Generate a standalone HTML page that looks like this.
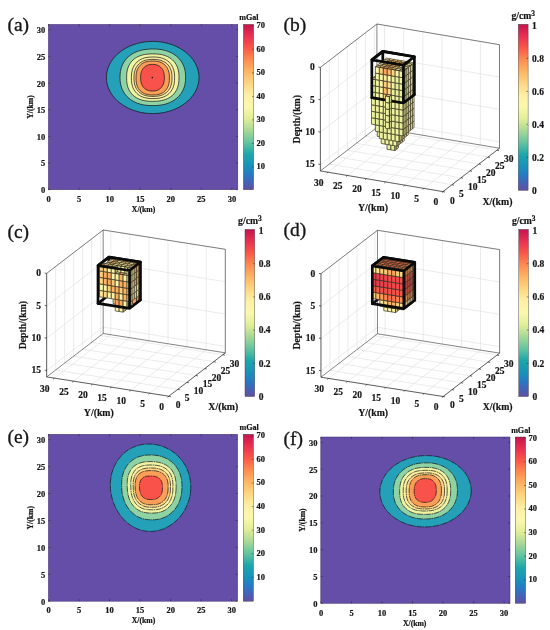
<!DOCTYPE html>
<html lang="en"><head><meta charset="utf-8"><title>Figure</title>
<style>
html,body{margin:0;padding:0;background:#fff;}
body{width:550px;height:630px;overflow:hidden;}
svg{display:block;font-family:'Liberation Serif', 'DejaVu Serif', serif;fill:#111;}
svg text{fill:#151515;stroke:#151515;stroke-width:.2px;}
svg text.pl{stroke-width:.32px;}
</style></head><body>
<svg width="550" height="630" viewBox="0 0 550 630">
<rect width="550" height="630" fill="#fff"/>
<defs><linearGradient id="cb" x1="0" y1="1" x2="0" y2="0">
<stop offset="0.0" stop-color="#5e4fa2"/>
<stop offset="0.04" stop-color="#4860b4"/>
<stop offset="0.09" stop-color="#2878c4"/>
<stop offset="0.143" stop-color="#1892ba"/>
<stop offset="0.214" stop-color="#1ca6aa"/>
<stop offset="0.286" stop-color="#64c4a0"/>
<stop offset="0.357" stop-color="#a6d896"/>
<stop offset="0.43" stop-color="#e2ee96"/>
<stop offset="0.5" stop-color="#faf8ac"/>
<stop offset="0.571" stop-color="#fef0a5"/>
<stop offset="0.643" stop-color="#fed682"/>
<stop offset="0.714" stop-color="#fdb664"/>
<stop offset="0.786" stop-color="#fd8c50"/>
<stop offset="0.857" stop-color="#fa5848"/>
<stop offset="0.93" stop-color="#e83052"/>
<stop offset="1.0" stop-color="#c4144e"/>
</linearGradient></defs>
<rect x="48.4" y="24.4" width="189.4" height="165.3" fill="#654ea8"/>
<path d="M199,77.5L198.82,80.65L198.3,83.77L197.42,86.84L196.21,89.85L194.66,92.76L192.8,95.55L190.63,98.21L188.17,100.7L185.44,103.03L182.46,105.15L179.26,107.07L175.85,108.76L172.27,110.22L168.54,111.42L164.68,112.37L160.74,113.05L156.74,113.46L152.7,113.6L148.66,113.46L144.66,113.05L140.72,112.37L136.86,111.42L133.13,110.22L129.55,108.76L126.14,107.07L122.94,105.15L119.96,103.03L117.23,100.7L114.77,98.21L112.6,95.55L110.74,92.76L109.19,89.85L107.98,86.84L107.1,83.77L106.58,80.65L106.4,77.5L106.58,74.35L107.1,71.23L107.98,68.16L109.19,65.15L110.74,62.24L112.6,59.45L114.77,56.79L117.23,54.3L119.96,51.97L122.94,49.85L126.14,47.93L129.55,46.24L133.13,44.78L136.86,43.58L140.72,42.63L144.66,41.95L148.66,41.54L152.7,41.4L156.74,41.54L160.74,41.95L164.68,42.63L168.54,43.58L172.27,44.78L175.85,46.24L179.26,47.93L182.46,49.85L185.44,51.97L188.17,54.3L190.63,56.79L192.8,59.45L194.66,62.24L196.21,65.15L197.42,68.16L198.3,71.23L198.82,74.35Z" fill="#24a0b8" stroke="#111" stroke-width="0.7"/>
<path d="M185.6,77.3L185.49,80.53L185.16,83.27L184.6,85.81L183.84,88.2L182.85,90.46L181.66,92.58L180.27,94.57L178.68,96.41L176.9,98.1L174.94,99.63L172.81,101L170.51,102.2L168.05,103.23L165.44,104.08L162.66,104.74L159.72,105.22L156.55,105.5L152.8,105.6L149.05,105.5L145.88,105.22L142.94,104.74L140.16,104.08L137.55,103.23L135.09,102.2L132.79,101L130.66,99.63L128.7,98.1L126.92,96.41L125.33,94.57L123.94,92.58L122.75,90.46L121.76,88.2L121,85.81L120.44,83.27L120.11,80.53L120,77.3L120.11,74.07L120.44,71.33L121,68.79L121.76,66.4L122.75,64.14L123.94,62.02L125.33,60.03L126.92,58.19L128.7,56.5L130.66,54.97L132.79,53.6L135.09,52.4L137.55,51.37L140.16,50.52L142.94,49.86L145.88,49.38L149.05,49.1L152.8,49L156.55,49.1L159.72,49.38L162.66,49.86L165.44,50.52L168.05,51.37L170.51,52.4L172.81,53.6L174.94,54.97L176.9,56.5L178.68,58.19L180.27,60.03L181.66,62.02L182.85,64.14L183.84,66.4L184.6,68.79L185.16,71.33L185.49,74.07Z" fill="#8fd3a4" stroke="#111" stroke-width="0.7"/>
<path d="M179,77.6L178.92,80.7L178.67,83.11L178.25,85.28L177.68,87.29L176.94,89.16L176.04,90.9L174.99,92.51L173.78,94L172.43,95.35L170.93,96.58L169.29,97.67L167.5,98.62L165.58,99.43L163.52,100.1L161.29,100.63L158.89,101L156.23,101.22L152.8,101.3L149.37,101.22L146.71,101L144.31,100.63L142.08,100.1L140.02,99.43L138.1,98.62L136.31,97.67L134.67,96.58L133.17,95.35L131.82,94L130.61,92.51L129.56,90.9L128.66,89.16L127.92,87.29L127.35,85.28L126.93,83.11L126.68,80.7L126.6,77.6L126.68,74.5L126.93,72.09L127.35,69.92L127.92,67.91L128.66,66.04L129.56,64.3L130.61,62.69L131.82,61.2L133.17,59.85L134.67,58.62L136.31,57.53L138.1,56.58L140.02,55.77L142.08,55.1L144.31,54.57L146.71,54.2L149.37,53.98L152.8,53.9L156.23,53.98L158.89,54.2L161.29,54.57L163.52,55.1L165.58,55.77L167.5,56.58L169.29,57.53L170.93,58.62L172.43,59.85L173.78,61.2L174.99,62.69L176.04,64.3L176.94,66.04L177.68,67.91L178.25,69.92L178.67,72.09L178.92,74.5Z" fill="#eff4a4" stroke="#111" stroke-width="0.7"/>
<path d="M174.6,77.8L174.53,80.52L174.33,82.64L173.98,84.54L173.51,86.31L172.9,87.95L172.16,89.47L171.29,90.89L170.3,92.19L169.18,93.38L167.95,94.46L166.59,95.41L165.12,96.25L163.54,96.96L161.83,97.55L160,98.01L158.02,98.34L155.83,98.53L153,98.6L150.17,98.53L147.98,98.34L146,98.01L144.17,97.55L142.46,96.96L140.88,96.25L139.41,95.41L138.05,94.46L136.82,93.38L135.7,92.19L134.71,90.89L133.84,89.47L133.1,87.95L132.49,86.31L132.02,84.54L131.67,82.64L131.47,80.52L131.4,77.8L131.47,75.08L131.67,72.96L132.02,71.06L132.49,69.29L133.1,67.65L133.84,66.13L134.71,64.71L135.7,63.41L136.82,62.22L138.05,61.14L139.41,60.19L140.88,59.35L142.46,58.64L144.17,58.05L146,57.59L147.98,57.26L150.17,57.07L153,57L155.83,57.07L158.02,57.26L160,57.59L161.83,58.05L163.54,58.64L165.12,59.35L166.59,60.19L167.95,61.14L169.18,62.22L170.3,63.41L171.29,64.71L172.16,66.13L172.9,67.65L173.51,69.29L173.98,71.06L174.33,72.96L174.53,75.08Z" fill="#fdf0a2" stroke="#111" stroke-width="0.7"/>
<path d="M172,77.9L171.94,80.32L171.76,82.2L171.46,83.9L171.04,85.47L170.5,86.93L169.85,88.28L169.09,89.54L168.22,90.7L167.23,91.76L166.15,92.72L164.96,93.57L163.66,94.31L162.27,94.94L160.77,95.47L159.16,95.87L157.42,96.17L155.49,96.34L153,96.4L150.51,96.34L148.58,96.17L146.84,95.87L145.23,95.47L143.73,94.94L142.34,94.31L141.04,93.57L139.85,92.72L138.77,91.76L137.78,90.7L136.91,89.54L136.15,88.28L135.5,86.93L134.96,85.47L134.54,83.9L134.24,82.2L134.06,80.32L134,77.9L134.06,75.48L134.24,73.6L134.54,71.9L134.96,70.33L135.5,68.87L136.15,67.52L136.91,66.26L137.78,65.1L138.77,64.04L139.85,63.08L141.04,62.23L142.34,61.49L143.73,60.86L145.23,60.33L146.84,59.93L148.58,59.63L150.51,59.46L153,59.4L155.49,59.46L157.42,59.63L159.16,59.93L160.77,60.33L162.27,60.86L163.66,61.49L164.96,62.23L166.15,63.08L167.23,64.04L168.22,65.1L169.09,66.26L169.85,67.52L170.5,68.87L171.04,70.33L171.46,71.9L171.76,73.6L171.94,75.48Z" fill="#fdd685" stroke="#111" stroke-width="0.7"/>
<path d="M169.4,78L169.35,80.23L169.19,81.95L168.92,83.51L168.56,84.95L168.09,86.29L167.51,87.54L166.84,88.7L166.07,89.76L165.21,90.74L164.26,91.61L163.21,92.4L162.07,93.08L160.85,93.66L159.53,94.14L158.11,94.52L156.58,94.78L154.89,94.95L152.7,95L150.51,94.95L148.82,94.78L147.29,94.52L145.87,94.14L144.55,93.66L143.33,93.08L142.19,92.4L141.14,91.61L140.19,90.74L139.33,89.76L138.56,88.7L137.89,87.54L137.31,86.29L136.84,84.95L136.48,83.51L136.21,81.95L136.05,80.23L136,78L136.05,75.77L136.21,74.05L136.48,72.49L136.84,71.05L137.31,69.71L137.89,68.46L138.56,67.3L139.33,66.24L140.19,65.26L141.14,64.39L142.19,63.6L143.33,62.92L144.55,62.34L145.87,61.86L147.29,61.48L148.82,61.22L150.51,61.05L152.7,61L154.89,61.05L156.58,61.22L158.11,61.48L159.53,61.86L160.85,62.34L162.07,62.92L163.21,63.6L164.26,64.39L165.21,65.26L166.07,66.24L166.84,67.3L167.51,68.46L168.09,69.71L168.56,71.05L168.92,72.49L169.19,74.05L169.35,75.77Z" fill="#fb9e57" stroke="#111" stroke-width="0.7"/>
<path d="M164.4,77.7L164.36,79.29L164.24,80.6L164.05,81.81L163.77,82.93L163.42,83.99L163,84.98L162.5,85.9L161.94,86.76L161.3,87.54L160.6,88.25L159.84,88.88L159.01,89.44L158.13,89.91L157.18,90.3L156.17,90.61L155.1,90.82L153.93,90.96L152.5,91L151.07,90.96L149.9,90.82L148.83,90.61L147.82,90.3L146.87,89.91L145.99,89.44L145.16,88.88L144.4,88.25L143.7,87.54L143.06,86.76L142.5,85.9L142,84.98L141.58,83.99L141.23,82.93L140.95,81.81L140.76,80.6L140.64,79.29L140.6,77.7L140.64,76.11L140.76,74.8L140.95,73.59L141.23,72.47L141.58,71.41L142,70.42L142.5,69.5L143.06,68.64L143.7,67.86L144.4,67.15L145.16,66.52L145.99,65.96L146.87,65.49L147.82,65.1L148.83,64.79L149.9,64.58L151.07,64.44L152.5,64.4L153.93,64.44L155.1,64.58L156.17,64.79L157.18,65.1L158.13,65.49L159.01,65.96L159.84,66.52L160.6,67.15L161.3,67.86L161.94,68.64L162.5,69.5L163,70.42L163.42,71.41L163.77,72.47L164.05,73.59L164.24,74.8L164.36,76.11Z" fill="#f9524b" stroke="#111" stroke-width="0.7"/>
<circle cx="152.3" cy="77.6" r="0.8" fill="#111"/>
<rect x="48.4" y="24.4" width="189.4" height="165.3" fill="none" stroke="#3b2f66" stroke-width="0.5"/>
<text x="48.6" y="201.8" font-size="8.5" text-anchor="middle" font-weight="bold">0</text>
<text x="45.2" y="193.1" font-size="8.5" text-anchor="end" font-weight="bold">0</text>
<text x="79.1" y="201.8" font-size="8.5" text-anchor="middle" font-weight="bold">5</text>
<text x="45.2" y="166.4" font-size="8.5" text-anchor="end" font-weight="bold">5</text>
<text x="109.7" y="201.8" font-size="8.5" text-anchor="middle" font-weight="bold">10</text>
<text x="45.2" y="139.8" font-size="8.5" text-anchor="end" font-weight="bold">10</text>
<text x="140.2" y="201.8" font-size="8.5" text-anchor="middle" font-weight="bold">15</text>
<text x="45.2" y="113.1" font-size="8.5" text-anchor="end" font-weight="bold">15</text>
<text x="170.8" y="201.8" font-size="8.5" text-anchor="middle" font-weight="bold">20</text>
<text x="45.2" y="86.5" font-size="8.5" text-anchor="end" font-weight="bold">20</text>
<text x="201.3" y="201.8" font-size="8.5" text-anchor="middle" font-weight="bold">25</text>
<text x="45.2" y="59.8" font-size="8.5" text-anchor="end" font-weight="bold">25</text>
<text x="231.9" y="201.8" font-size="8.5" text-anchor="middle" font-weight="bold">30</text>
<text x="45.2" y="33.1" font-size="8.5" text-anchor="end" font-weight="bold">30</text>
<path d="M48.6,189.7v-2M48.6,24.4v2M48.4,189.7h2M237.8,189.7h-2M79.1,189.7v-2M79.1,24.4v2M48.4,163h2M237.8,163h-2M109.7,189.7v-2M109.7,24.4v2M48.4,136.4h2M237.8,136.4h-2M140.2,189.7v-2M140.2,24.4v2M48.4,109.7h2M237.8,109.7h-2M170.8,189.7v-2M170.8,24.4v2M48.4,83.1h2M237.8,83.1h-2M201.3,189.7v-2M201.3,24.4v2M48.4,56.4h2M237.8,56.4h-2M231.9,189.7v-2M231.9,24.4v2M48.4,29.7h2M237.8,29.7h-2" stroke="#222" stroke-width="0.5" fill="none"/>
<text x="143.6" y="212.4" font-size="7.7" text-anchor="middle" font-weight="bold">X/(km)</text>
<text transform="translate(33,107) rotate(-90)" font-size="7.7" text-anchor="middle" font-weight="bold">Y/(km)</text>
<rect x="243.4" y="24.4" width="10.2" height="165.3" fill="url(#cb)" stroke="#333" stroke-width="0.4"/>
<text x="256.6" y="28" font-size="8.5" text-anchor="start" font-weight="bold">70</text>
<text x="256.6" y="51.5" font-size="8.5" text-anchor="start" font-weight="bold">60</text>
<text x="256.6" y="75.1" font-size="8.5" text-anchor="start" font-weight="bold">50</text>
<text x="256.6" y="98.7" font-size="8.5" text-anchor="start" font-weight="bold">40</text>
<text x="256.6" y="122.2" font-size="8.5" text-anchor="start" font-weight="bold">30</text>
<text x="256.6" y="145.8" font-size="8.5" text-anchor="start" font-weight="bold">20</text>
<text x="256.6" y="169.3" font-size="8.5" text-anchor="start" font-weight="bold">10</text>
<path d="M253.6,25.7h-1.6M253.6,49.2h-1.6M253.6,72.8h-1.6M253.6,96.4h-1.6M253.6,119.9h-1.6M253.6,143.4h-1.6M253.6,167h-1.6" stroke="#222" stroke-width="0.5" fill="none"/>
<text x="248.9" y="20.2" font-size="8.1" text-anchor="middle" font-weight="bold">mGal</text>
<text x="7.4" y="31.3" font-size="19.5" text-anchor="start" font-weight="normal" class="pl">(a)</text>
<rect x="48.4" y="434.3" width="189.2" height="166.9" fill="#654ea8"/>
<path d="M190.81,488.5L190.5,492.54L189.84,496.51L188.85,500.38L187.55,504.1L185.97,507.66L184.12,511.02L182.04,514.17L179.75,517.09L177.26,519.77L174.6,522.2L171.8,524.37L168.86,526.27L165.81,527.89L162.66,529.22L159.43,530.25L156.15,530.97L152.83,531.37L149.5,531.45L146.18,531.2L142.91,530.63L139.69,529.75L136.56,528.55L133.54,527.06L130.64,525.3L127.89,523.26L125.3,520.99L122.88,518.49L120.64,515.78L118.59,512.89L116.73,509.81L115.09,506.58L113.66,503.19L112.47,499.68L111.52,496.04L110.83,492.31L110.42,488.5L110.31,484.64L110.5,480.75L111.02,476.88L111.86,473.07L113.04,469.34L114.54,465.76L116.36,462.35L118.47,459.17L120.86,456.24L123.5,453.59L126.35,451.25L129.38,449.23L132.55,447.55L135.83,446.2L139.2,445.18L142.61,444.48L146.05,444.09L149.5,444.01L152.94,444.22L156.35,444.72L159.73,445.5L163.05,446.56L166.3,447.91L169.47,449.54L172.52,451.45L175.45,453.66L178.21,456.16L180.77,458.94L183.11,461.99L185.18,465.29L186.97,468.82L188.44,472.53L189.57,476.4L190.35,480.39L190.76,484.43Z" fill="#24a0b8" stroke="#111" stroke-width="0.7" stroke-dasharray="6 0.6 1.2 0.6"/>
<path d="M181.96,488L181.73,491.74L181.27,494.97L180.58,497.96L179.68,500.76L178.57,503.36L177.29,505.79L175.83,508.02L174.22,510.07L172.47,511.93L170.58,513.61L168.57,515.09L166.45,516.38L164.21,517.48L161.87,518.37L159.41,519.06L156.84,519.54L154.11,519.8L151,519.85L147.9,519.68L145.21,519.29L142.69,518.68L140.31,517.87L138.06,516.86L135.95,515.65L133.97,514.25L132.12,512.68L130.41,510.95L128.84,509.06L127.41,507.02L126.12,504.83L124.98,502.5L123.99,500.01L123.16,497.37L122.5,494.56L122.01,491.53L121.72,488L121.62,484.42L121.73,481.26L122.07,478.26L122.63,475.38L123.43,472.64L124.46,470.04L125.71,467.61L127.18,465.36L128.85,463.31L130.72,461.48L132.75,459.87L134.94,458.5L137.26,457.36L139.71,456.45L142.27,455.77L144.95,455.31L147.77,455.06L151,455.01L154.22,455.15L157.02,455.49L159.67,456.01L162.19,456.72L164.62,457.63L166.94,458.72L169.15,460.03L171.24,461.53L173.2,463.25L175.01,465.18L176.64,467.32L178.09,469.67L179.33,472.21L180.35,474.95L181.12,477.86L181.65,480.94L181.93,484.24Z" fill="#8fd3a4" stroke="#111" stroke-width="0.7" stroke-dasharray="6 0.6 1.2 0.6"/>
<path d="M176.1,487.8L175.93,491.37L175.57,494.12L175.05,496.56L174.36,498.79L173.52,500.82L172.55,502.68L171.44,504.38L170.21,505.92L168.87,507.31L167.42,508.55L165.86,509.64L164.2,510.58L162.44,511.38L160.56,512.03L158.56,512.52L156.41,512.87L154.04,513.06L151,513.09L147.97,512.96L145.64,512.67L143.53,512.23L141.6,511.63L139.8,510.88L138.14,509.99L136.6,508.96L135.17,507.8L133.86,506.51L132.67,505.09L131.58,503.55L130.61,501.88L129.75,500.09L129,498.15L128.37,496.04L127.86,493.75L127.49,491.17L127.26,487.8L127.17,484.38L127.24,481.69L127.48,479.23L127.89,476.93L128.48,474.78L129.24,472.77L130.18,470.91L131.29,469.21L132.57,467.68L133.99,466.31L135.57,465.13L137.28,464.12L139.11,463.29L141.07,462.63L143.16,462.15L145.4,461.82L147.85,461.64L151,461.61L154.14,461.71L156.57,461.96L158.78,462.34L160.84,462.85L162.79,463.5L164.62,464.3L166.35,465.25L167.97,466.36L169.48,467.63L170.86,469.07L172.11,470.68L173.21,472.46L174.14,474.42L174.91,476.56L175.49,478.88L175.88,481.4L176.09,484.2Z" fill="#eff4a4" stroke="#111" stroke-width="0.7" stroke-dasharray="6 0.6 1.2 0.6"/>
<path d="M172.95,487.8L172.8,491.17L172.5,493.63L172.07,495.78L171.49,497.71L170.79,499.46L169.97,501.05L169.05,502.5L168.02,503.8L166.89,504.97L165.67,506.01L164.36,506.93L162.95,507.72L161.45,508.38L159.84,508.93L158.12,509.34L156.24,509.63L154.14,509.78L151.3,509.8L148.47,509.7L146.4,509.45L144.56,509.08L142.9,508.58L141.36,507.95L139.95,507.2L138.65,506.34L137.45,505.36L136.35,504.27L135.35,503.07L134.44,501.76L133.63,500.34L132.91,498.8L132.28,497.13L131.76,495.31L131.34,493.29L131.02,490.98L130.82,487.8L130.75,484.58L130.8,482.17L130.99,480L131.33,478L131.81,476.14L132.44,474.42L133.22,472.83L134.15,471.38L135.22,470.08L136.41,468.93L137.74,467.94L139.19,467.09L140.75,466.4L142.42,465.86L144.22,465.45L146.18,465.18L148.36,465.03L151.3,465.01L154.24,465.1L156.4,465.3L158.32,465.61L160.1,466.04L161.76,466.59L163.32,467.25L164.79,468.05L166.15,468.97L167.42,470.04L168.58,471.26L169.63,472.62L170.55,474.14L171.33,475.82L171.96,477.66L172.45,479.68L172.77,481.9L172.94,484.41Z" fill="#fdf0a2" stroke="#111" stroke-width="0.7" stroke-dasharray="6 0.6 1.2 0.6"/>
<path d="M170.44,488L170.31,490.96L170.05,493.11L169.66,495L169.15,496.69L168.53,498.23L167.81,499.63L166.99,500.89L166.08,502.04L165.08,503.06L164.01,503.98L162.84,504.78L161.6,505.47L160.27,506.06L158.85,506.53L157.33,506.89L155.67,507.15L153.81,507.28L151.3,507.3L148.8,507.21L146.96,506.99L145.34,506.67L143.87,506.23L142.51,505.68L141.26,505.02L140.11,504.26L139.05,503.4L138.08,502.45L137.2,501.4L136.4,500.25L135.68,499L135.04,497.65L134.49,496.18L134.02,494.58L133.65,492.81L133.37,490.79L133.2,488L133.13,485.17L133.18,483.06L133.35,481.16L133.64,479.4L134.07,477.77L134.63,476.26L135.32,474.87L136.14,473.6L137.08,472.46L138.14,471.45L139.31,470.58L140.59,469.84L141.97,469.23L143.45,468.75L145.04,468.39L146.77,468.15L148.7,468.03L151.3,468L153.9,468.08L155.81,468.26L157.51,468.54L159.08,468.92L160.55,469.39L161.93,469.98L163.22,470.67L164.43,471.49L165.55,472.42L166.58,473.49L167.5,474.68L168.31,476.02L169,477.49L169.57,479.11L169.99,480.88L170.28,482.82L170.43,485.02Z" fill="#fdd685" stroke="#111" stroke-width="0.7" stroke-dasharray="6 0.6 1.2 0.6"/>
<path d="M168.14,488L168.03,490.57L167.79,492.45L167.45,494.09L167,495.56L166.45,496.9L165.81,498.11L165.09,499.22L164.28,500.21L163.4,501.11L162.45,501.9L161.42,502.6L160.32,503.2L159.14,503.71L157.89,504.12L156.54,504.44L155.07,504.66L153.42,504.78L151.2,504.79L148.98,504.71L147.36,504.53L145.93,504.24L144.62,503.86L143.42,503.38L142.32,502.81L141.3,502.15L140.36,501.4L139.5,500.57L138.72,499.65L138.01,498.66L137.37,497.57L136.81,496.4L136.32,495.12L135.91,493.73L135.58,492.19L135.33,490.43L135.17,488L135.11,485.54L135.16,483.7L135.31,482.05L135.57,480.52L135.95,479.1L136.44,477.79L137.05,476.57L137.78,475.47L138.61,474.48L139.55,473.6L140.59,472.84L141.72,472.2L142.94,471.67L144.25,471.25L145.66,470.94L147.19,470.73L148.9,470.62L151.2,470.6L153.5,470.67L155.19,470.83L156.7,471.07L158.09,471.4L159.39,471.81L160.61,472.32L161.75,472.93L162.82,473.63L163.82,474.45L164.73,475.37L165.54,476.42L166.26,477.58L166.87,478.86L167.37,480.26L167.75,481.8L168,483.5L168.13,485.41Z" fill="#fb9e57" stroke="#111" stroke-width="0.7" stroke-dasharray="6 0.6 1.2 0.6"/>
<path d="M162.52,488L162.44,489.78L162.28,491.07L162.04,492.2L161.72,493.21L161.34,494.14L160.89,494.98L160.39,495.74L159.83,496.42L159.21,497.04L158.55,497.59L157.83,498.07L157.06,498.48L156.24,498.83L155.36,499.12L154.42,499.34L153.4,499.49L152.25,499.57L150.7,499.58L149.15,499.52L148.02,499.4L147.02,499.2L146.11,498.94L145.28,498.61L144.5,498.21L143.79,497.76L143.14,497.24L142.54,496.67L141.99,496.04L141.5,495.35L141.05,494.6L140.66,493.79L140.32,492.91L140.03,491.95L139.8,490.89L139.63,489.67L139.52,488L139.48,486.3L139.51,485.04L139.61,483.9L139.8,482.84L140.06,481.86L140.41,480.96L140.83,480.12L141.34,479.36L141.92,478.68L142.57,478.07L143.3,477.55L144.09,477.1L144.94,476.74L145.85,476.45L146.84,476.24L147.9,476.09L149.09,476.02L150.7,476L152.3,476.05L153.48,476.16L154.53,476.32L155.5,476.55L156.41,476.84L157.26,477.19L158.06,477.6L158.81,478.09L159.5,478.65L160.14,479.29L160.71,480.01L161.21,480.81L161.63,481.69L161.98,482.66L162.24,483.73L162.42,484.89L162.51,486.21Z" fill="#f9524b" stroke="#111" stroke-width="0.7" stroke-dasharray="6 0.6 1.2 0.6"/>
<rect x="48.4" y="434.3" width="189.2" height="166.9" fill="none" stroke="#3b2f66" stroke-width="0.5"/>
<text x="48.6" y="613.2" font-size="8.5" text-anchor="middle" font-weight="bold">0</text>
<text x="45.2" y="604.6" font-size="8.5" text-anchor="end" font-weight="bold">0</text>
<text x="79.1" y="613.2" font-size="8.5" text-anchor="middle" font-weight="bold">5</text>
<text x="45.2" y="577.7" font-size="8.5" text-anchor="end" font-weight="bold">5</text>
<text x="109.6" y="613.2" font-size="8.5" text-anchor="middle" font-weight="bold">10</text>
<text x="45.2" y="550.8" font-size="8.5" text-anchor="end" font-weight="bold">10</text>
<text x="140.1" y="613.2" font-size="8.5" text-anchor="middle" font-weight="bold">15</text>
<text x="45.2" y="523.8" font-size="8.5" text-anchor="end" font-weight="bold">15</text>
<text x="170.7" y="613.2" font-size="8.5" text-anchor="middle" font-weight="bold">20</text>
<text x="45.2" y="496.9" font-size="8.5" text-anchor="end" font-weight="bold">20</text>
<text x="201.2" y="613.2" font-size="8.5" text-anchor="middle" font-weight="bold">25</text>
<text x="45.2" y="470" font-size="8.5" text-anchor="end" font-weight="bold">25</text>
<text x="231.7" y="613.2" font-size="8.5" text-anchor="middle" font-weight="bold">30</text>
<text x="45.2" y="443.1" font-size="8.5" text-anchor="end" font-weight="bold">30</text>
<path d="M48.6,601.2v-2M48.6,434.3v2M48.4,601.2h2M237.6,601.2h-2M79.1,601.2v-2M79.1,434.3v2M48.4,574.3h2M237.6,574.3h-2M109.6,601.2v-2M109.6,434.3v2M48.4,547.4h2M237.6,547.4h-2M140.1,601.2v-2M140.1,434.3v2M48.4,520.4h2M237.6,520.4h-2M170.7,601.2v-2M170.7,434.3v2M48.4,493.5h2M237.6,493.5h-2M201.2,601.2v-2M201.2,434.3v2M48.4,466.6h2M237.6,466.6h-2M231.7,601.2v-2M231.7,434.3v2M48.4,439.7h2M237.6,439.7h-2" stroke="#222" stroke-width="0.5" fill="none"/>
<text x="143.5" y="623.2" font-size="7.7" text-anchor="middle" font-weight="bold">X/(km)</text>
<text transform="translate(33,517.8) rotate(-90)" font-size="7.7" text-anchor="middle" font-weight="bold">Y/(km)</text>
<rect x="243.2" y="434.3" width="10.2" height="166.9" fill="url(#cb)" stroke="#333" stroke-width="0.4"/>
<text x="256.6" y="438.1" font-size="8.5" text-anchor="start" font-weight="bold">70</text>
<text x="256.6" y="461.7" font-size="8.5" text-anchor="start" font-weight="bold">60</text>
<text x="256.6" y="485.3" font-size="8.5" text-anchor="start" font-weight="bold">50</text>
<text x="256.6" y="508.9" font-size="8.5" text-anchor="start" font-weight="bold">40</text>
<text x="256.6" y="532.5" font-size="8.5" text-anchor="start" font-weight="bold">30</text>
<text x="256.6" y="556.1" font-size="8.5" text-anchor="start" font-weight="bold">20</text>
<text x="256.6" y="579.7" font-size="8.5" text-anchor="start" font-weight="bold">10</text>
<path d="M253.4,435.8h-1.6M253.4,459.4h-1.6M253.4,483h-1.6M253.4,506.6h-1.6M253.4,530.2h-1.6M253.4,553.8h-1.6M253.4,577.4h-1.6" stroke="#222" stroke-width="0.5" fill="none"/>
<text x="249.1" y="430" font-size="8.1" text-anchor="middle" font-weight="bold">mGal</text>
<text x="7.4" y="443.1" font-size="19.5" text-anchor="start" font-weight="normal" class="pl">(e)</text>
<rect x="320.8" y="437" width="189.2" height="166.3" fill="#654ea8"/>
<path d="M471.21,491L470.99,494.22L470.4,497.4L469.45,500.53L468.16,503.57L466.53,506.5L464.58,509.3L462.34,511.94L459.82,514.42L457.05,516.71L454.05,518.79L450.84,520.67L447.45,522.31L443.9,523.72L440.22,524.89L436.43,525.8L432.57,526.46L428.65,526.85L424.7,526.98L420.75,526.84L416.84,526.44L412.98,525.77L409.2,524.83L405.55,523.64L402.03,522.2L398.69,520.52L395.55,518.61L392.63,516.48L389.97,514.16L387.58,511.66L385.49,508.99L383.7,506.19L382.25,503.28L381.13,500.28L380.36,497.21L379.93,494.11L379.86,491L380.13,487.9L380.74,484.84L381.68,481.84L382.95,478.92L384.51,476.11L386.38,473.42L388.51,470.86L390.91,468.46L393.54,466.24L396.39,464.19L399.44,462.33L402.67,460.68L406.07,459.25L409.6,458.04L413.25,457.06L417,456.32L420.83,455.82L424.7,455.58L428.6,455.6L432.49,455.88L436.36,456.42L440.16,457.23L443.88,458.31L447.48,459.64L450.93,461.23L454.19,463.07L457.25,465.13L460.06,467.42L462.61,469.91L464.86,472.57L466.8,475.4L468.4,478.36L469.65,481.43L470.54,484.58L471.06,487.78Z" fill="#24a0b8" stroke="#111" stroke-width="0.7" stroke-dasharray="6 0.6 1.2 0.6"/>
<path d="M457.45,490.7L457.31,493.86L456.93,496.6L456.31,499.17L455.48,501.59L454.43,503.88L453.16,506.02L451.71,508.02L450.06,509.87L448.24,511.56L446.25,513.09L444.1,514.45L441.81,515.64L439.38,516.65L436.81,517.49L434.11,518.14L431.28,518.61L428.26,518.89L424.8,518.98L421.34,518.89L418.33,518.6L415.5,518.12L412.81,517.45L410.26,516.59L407.85,515.55L405.59,514.33L403.5,512.94L401.57,511.37L399.82,509.65L398.27,507.78L396.91,505.76L395.76,503.62L394.83,501.34L394.12,498.95L393.63,496.43L393.36,493.75L393.32,490.7L393.5,487.66L393.9,485.02L394.51,482.56L395.32,480.23L396.34,478.04L397.54,475.98L398.93,474.05L400.49,472.26L402.22,470.61L404.11,469.11L406.15,467.75L408.33,466.55L410.66,465.51L413.12,464.64L415.72,463.93L418.47,463.4L421.41,463.04L424.8,462.86L428.22,462.86L431.21,463.05L434.05,463.43L436.77,464.01L439.36,464.77L441.83,465.73L444.17,466.87L446.35,468.2L448.38,469.72L450.23,471.4L451.9,473.26L453.36,475.27L454.62,477.44L455.65,479.75L456.46,482.19L457.03,484.78L457.36,487.54Z" fill="#8fd3a4" stroke="#111" stroke-width="0.7" stroke-dasharray="6 0.6 1.2 0.6"/>
<path d="M450.68,490.7L450.57,493.88L450.29,496.34L449.84,498.56L449.22,500.6L448.45,502.48L447.51,504.22L446.43,505.83L445.21,507.3L443.84,508.63L442.34,509.83L440.72,510.89L438.96,511.81L437.08,512.6L435.06,513.24L432.91,513.74L430.58,514.1L428.01,514.32L424.7,514.39L421.39,514.31L418.82,514.09L416.5,513.72L414.35,513.21L412.35,512.55L410.49,511.74L408.76,510.79L407.17,509.7L405.73,508.47L404.42,507.11L403.27,505.62L402.27,504L401.42,502.25L400.74,500.37L400.22,498.35L399.87,496.18L399.68,493.78L399.65,490.7L399.79,487.64L400.08,485.27L400.54,483.15L401.14,481.19L401.89,479.38L402.78,477.71L403.81,476.16L404.97,474.73L406.26,473.43L407.68,472.25L409.22,471.19L410.89,470.26L412.69,469.45L414.62,468.77L416.69,468.22L418.95,467.81L421.45,467.53L424.7,467.38L427.97,467.38L430.53,467.52L432.86,467.81L435.03,468.24L437.07,468.82L438.98,469.56L440.77,470.44L442.43,471.48L443.96,472.66L445.35,473.99L446.59,475.46L447.67,477.08L448.6,478.84L449.36,480.75L449.95,482.81L450.37,485.04L450.61,487.51Z" fill="#eff4a4" stroke="#111" stroke-width="0.7" stroke-dasharray="6 0.6 1.2 0.6"/>
<path d="M447.18,490.5L447.09,493.49L446.86,495.68L446.49,497.61L445.97,499.37L445.33,500.99L444.55,502.47L443.65,503.83L442.63,505.07L441.49,506.19L440.23,507.19L438.86,508.08L437.37,508.85L435.78,509.5L434.06,510.04L432.2,510.45L430.17,510.75L427.89,510.93L424.8,510.99L421.71,510.93L419.43,510.74L417.41,510.44L415.56,510.01L413.85,509.46L412.27,508.79L410.81,507.99L409.47,507.08L408.26,506.05L407.17,504.91L406.21,503.65L405.38,502.27L404.68,500.78L404.11,499.17L403.69,497.42L403.39,495.52L403.24,493.39L403.22,490.5L403.33,487.63L403.58,485.52L403.95,483.66L404.45,481.98L405.08,480.43L405.82,479L406.68,477.68L407.65,476.48L408.73,475.39L409.92,474.4L411.22,473.51L412.62,472.73L414.15,472.06L415.8,471.49L417.58,471.04L419.54,470.69L421.76,470.45L424.8,470.33L427.86,470.33L430.12,470.44L432.15,470.67L434.02,471.03L435.77,471.51L437.39,472.12L438.91,472.86L440.31,473.72L441.59,474.71L442.75,475.83L443.79,477.08L444.69,478.45L445.46,479.95L446.09,481.58L446.58,483.36L446.93,485.31L447.13,487.51Z" fill="#fdf0a2" stroke="#111" stroke-width="0.7" stroke-dasharray="6 0.6 1.2 0.6"/>
<path d="M444.51,490.8L444.43,493.45L444.23,495.39L443.9,497.11L443.45,498.68L442.89,500.11L442.22,501.43L441.43,502.63L440.54,503.73L439.54,504.73L438.45,505.62L437.25,506.41L435.96,507.09L434.57,507.67L433.07,508.15L431.45,508.52L429.68,508.78L427.7,508.94L425,508.99L422.3,508.93L420.32,508.77L418.56,508.5L416.95,508.12L415.46,507.63L414.08,507.03L412.81,506.33L411.64,505.52L410.59,504.61L409.64,503.59L408.8,502.47L408.07,501.25L407.46,499.92L406.97,498.49L406.6,496.95L406.34,495.26L406.21,493.36L406.19,490.8L406.29,488.25L406.5,486.38L406.83,484.73L407.27,483.23L407.81,481.86L408.46,480.59L409.2,479.42L410.05,478.35L410.99,477.38L412.03,476.5L413.16,475.72L414.39,475.03L415.72,474.43L417.15,473.93L418.71,473.52L420.42,473.21L422.35,473L425,472.89L427.66,472.89L429.64,472.99L431.41,473.2L433.04,473.52L434.56,473.94L435.98,474.49L437.29,475.14L438.51,475.9L439.63,476.78L440.64,477.78L441.55,478.88L442.34,480.1L443.01,481.43L443.56,482.88L443.99,484.46L444.29,486.19L444.46,488.15Z" fill="#fdd685" stroke="#111" stroke-width="0.7" stroke-dasharray="6 0.6 1.2 0.6"/>
<path d="M441.43,490.7L441.36,493.07L441.19,494.82L440.92,496.35L440.54,497.75L440.07,499.04L439.5,500.22L438.84,501.3L438.08,502.28L437.25,503.18L436.32,503.97L435.32,504.68L434.23,505.29L433.06,505.81L431.79,506.23L430.43,506.57L428.94,506.8L427.27,506.94L425,506.99L422.73,506.94L421.06,506.79L419.57,506.55L418.22,506.21L416.96,505.77L415.8,505.24L414.73,504.61L413.75,503.89L412.86,503.07L412.06,502.16L411.36,501.15L410.75,500.06L410.23,498.87L409.82,497.59L409.5,496.2L409.29,494.69L409.18,493L409.16,490.7L409.24,488.41L409.43,486.74L409.7,485.27L410.07,483.92L410.52,482.69L411.07,481.55L411.7,480.51L412.41,479.55L413.2,478.68L414.08,477.9L415.03,477.19L416.06,476.57L417.18,476.04L418.39,475.59L419.7,475.22L421.14,474.95L422.77,474.76L425,474.66L427.24,474.66L428.91,474.75L430.4,474.94L431.77,475.22L433.05,475.6L434.24,476.09L435.35,476.67L436.38,477.36L437.32,478.15L438.17,479.04L438.93,480.03L439.6,481.12L440.16,482.31L440.63,483.61L440.99,485.02L441.24,486.57L441.39,488.32Z" fill="#fb9e57" stroke="#111" stroke-width="0.7" stroke-dasharray="6 0.6 1.2 0.6"/>
<path d="M436.29,490.4L436.25,492.01L436.13,493.26L435.93,494.38L435.66,495.41L435.32,496.36L434.92,497.25L434.45,498.06L433.92,498.8L433.32,499.48L432.67,500.09L431.96,500.62L431.2,501.09L430.38,501.49L429.51,501.81L428.57,502.07L427.56,502.25L426.44,502.36L425,502.39L423.56,502.35L422.44,502.24L421.43,502.06L420.5,501.8L419.63,501.46L418.82,501.05L418.07,500.57L417.38,500.02L416.75,499.4L416.18,498.71L415.68,497.95L415.25,497.13L414.88,496.25L414.58,495.29L414.36,494.27L414.2,493.17L414.12,491.96L414.11,490.4L414.17,488.85L414.3,487.65L414.49,486.58L414.76,485.59L415.08,484.67L415.47,483.82L415.92,483.04L416.42,482.31L416.98,481.65L417.6,481.06L418.27,480.52L419,480.05L419.78,479.64L420.62,479.3L421.52,479.02L422.5,478.81L423.59,478.67L425,478.59L426.42,478.59L427.53,478.66L428.55,478.81L429.49,479.03L430.38,479.32L431.21,479.69L431.99,480.14L432.71,480.67L433.37,481.27L433.98,481.94L434.52,482.69L434.99,483.51L435.39,484.4L435.72,485.36L435.98,486.4L436.16,487.53L436.27,488.79Z" fill="#f9524b" stroke="#111" stroke-width="0.7" stroke-dasharray="6 0.6 1.2 0.6"/>
<rect x="320.8" y="437" width="189.2" height="166.3" fill="none" stroke="#3b2f66" stroke-width="0.5"/>
<text x="321" y="615.6" font-size="8.5" text-anchor="middle" font-weight="bold">0</text>
<text x="317.6" y="606.7" font-size="8.5" text-anchor="end" font-weight="bold">0</text>
<text x="351.5" y="615.6" font-size="8.5" text-anchor="middle" font-weight="bold">5</text>
<text x="317.6" y="579.9" font-size="8.5" text-anchor="end" font-weight="bold">5</text>
<text x="382" y="615.6" font-size="8.5" text-anchor="middle" font-weight="bold">10</text>
<text x="317.6" y="553.1" font-size="8.5" text-anchor="end" font-weight="bold">10</text>
<text x="412.5" y="615.6" font-size="8.5" text-anchor="middle" font-weight="bold">15</text>
<text x="317.6" y="526.2" font-size="8.5" text-anchor="end" font-weight="bold">15</text>
<text x="443.1" y="615.6" font-size="8.5" text-anchor="middle" font-weight="bold">20</text>
<text x="317.6" y="499.4" font-size="8.5" text-anchor="end" font-weight="bold">20</text>
<text x="473.6" y="615.6" font-size="8.5" text-anchor="middle" font-weight="bold">25</text>
<text x="317.6" y="472.6" font-size="8.5" text-anchor="end" font-weight="bold">25</text>
<text x="504.1" y="615.6" font-size="8.5" text-anchor="middle" font-weight="bold">30</text>
<text x="317.6" y="445.8" font-size="8.5" text-anchor="end" font-weight="bold">30</text>
<path d="M321,603.3v-2M321,437v2M320.8,603.3h2M510,603.3h-2M351.5,603.3v-2M351.5,437v2M320.8,576.5h2M510,576.5h-2M382,603.3v-2M382,437v2M320.8,549.7h2M510,549.7h-2M412.5,603.3v-2M412.5,437v2M320.8,522.8h2M510,522.8h-2M443.1,603.3v-2M443.1,437v2M320.8,496h2M510,496h-2M473.6,603.3v-2M473.6,437v2M320.8,469.2h2M510,469.2h-2M504.1,603.3v-2M504.1,437v2M320.8,442.4h2M510,442.4h-2" stroke="#222" stroke-width="0.5" fill="none"/>
<text x="414.7" y="625.6" font-size="7.7" text-anchor="middle" font-weight="bold">X/(km)</text>
<text transform="translate(305.3,520.1) rotate(-90)" font-size="7.7" text-anchor="middle" font-weight="bold">Y/(km)</text>
<rect x="515.2" y="437" width="10.4" height="166.3" fill="url(#cb)" stroke="#333" stroke-width="0.4"/>
<text x="528.6" y="440.6" font-size="8.5" text-anchor="start" font-weight="bold">70</text>
<text x="528.6" y="464.2" font-size="8.5" text-anchor="start" font-weight="bold">60</text>
<text x="528.6" y="487.8" font-size="8.5" text-anchor="start" font-weight="bold">50</text>
<text x="528.6" y="511.4" font-size="8.5" text-anchor="start" font-weight="bold">40</text>
<text x="528.6" y="535" font-size="8.5" text-anchor="start" font-weight="bold">30</text>
<text x="528.6" y="558.6" font-size="8.5" text-anchor="start" font-weight="bold">20</text>
<text x="528.6" y="582.2" font-size="8.5" text-anchor="start" font-weight="bold">10</text>
<path d="M525.6,438.3h-1.6M525.6,461.9h-1.6M525.6,485.5h-1.6M525.6,509.1h-1.6M525.6,532.7h-1.6M525.6,556.3h-1.6M525.6,579.9h-1.6" stroke="#222" stroke-width="0.5" fill="none"/>
<text x="520.8" y="432.7" font-size="8.1" text-anchor="middle" font-weight="bold">mGal</text>
<text x="283.4" y="444.9" font-size="19.5" text-anchor="start" font-weight="normal" class="pl">(f)</text>
<path d="M499.51,44.7L499.51,148.22L443,191.62M320.39,67.39L320.39,170.91L443,191.62M480.36,41.46L480.36,144.98L423.84,188.38M329.39,60.48L329.39,164L452,184.71M461.2,38.23L461.2,141.75L404.69,185.15M338.39,53.57L338.39,157.09L461,177.8M442.04,34.99L442.04,138.51L385.53,181.91M347.39,46.66L347.39,150.18L470,170.89M422.88,31.76L422.88,135.28L366.37,178.68M356.39,39.75L356.39,143.27L479,163.98M403.73,28.52L403.73,132.04L347.21,175.44M365.39,32.84L365.39,136.36L487.99,157.07M384.57,25.29L384.57,128.81L328.06,172.21M374.39,25.93L374.39,129.45L496.99,150.16M320.39,67.39L376.91,23.99L499.51,44.7M320.39,99.74L376.91,56.34L499.51,77.05M320.39,132.09L376.91,88.69L499.51,109.4M320.39,164.44L376.91,121.04L499.51,141.75" stroke="#dedede" stroke-width="0.6" fill="none"/>
<path d="M320.39,67.39L376.91,23.99L499.51,44.7L499.51,148.22M376.91,23.99L376.91,127.51L320.39,170.91M376.91,127.51L499.51,148.22" stroke="#333" stroke-width="0.6" fill="none"/>
<text x="438.3" y="205.2" font-size="9.5" text-anchor="end" font-weight="bold">0</text>
<text x="449.9" y="203.5" font-size="9.5" text-anchor="start" font-weight="bold">0</text>
<text x="419.1" y="202" font-size="9.5" text-anchor="end" font-weight="bold">5</text>
<text x="458.9" y="196.6" font-size="9.5" text-anchor="start" font-weight="bold">5</text>
<text x="400" y="198.7" font-size="9.5" text-anchor="end" font-weight="bold">10</text>
<text x="467.9" y="189.7" font-size="9.5" text-anchor="start" font-weight="bold">10</text>
<text x="380.8" y="195.5" font-size="9.5" text-anchor="end" font-weight="bold">15</text>
<text x="476.9" y="182.8" font-size="9.5" text-anchor="start" font-weight="bold">15</text>
<text x="361.7" y="192.3" font-size="9.5" text-anchor="end" font-weight="bold">20</text>
<text x="485.9" y="175.9" font-size="9.5" text-anchor="start" font-weight="bold">20</text>
<text x="342.5" y="189" font-size="9.5" text-anchor="end" font-weight="bold">25</text>
<text x="494.9" y="169" font-size="9.5" text-anchor="start" font-weight="bold">25</text>
<text x="323.4" y="185.8" font-size="9.5" text-anchor="end" font-weight="bold">30</text>
<text x="503.9" y="162.1" font-size="9.5" text-anchor="start" font-weight="bold">30</text>
<text x="314.7" y="70.2" font-size="9.5" text-anchor="end" font-weight="bold">0</text>
<text x="314.7" y="102.5" font-size="9.5" text-anchor="end" font-weight="bold">5</text>
<text x="314.7" y="134.9" font-size="9.5" text-anchor="end" font-weight="bold">10</text>
<text x="314.7" y="167.2" font-size="9.5" text-anchor="end" font-weight="bold">15</text>
<path d="M320.39,67.39L320.39,170.91L443,191.62L499.51,148.22M443,191.62l-1.2,1.1M443,191.62l2,0.4M423.84,188.38l-1.2,1.1M452,184.71l2,0.4M404.69,185.15l-1.2,1.1M461,177.8l2,0.4M385.53,181.91l-1.2,1.1M470,170.89l2,0.4M366.37,178.68l-1.2,1.1M479,163.98l2,0.4M347.21,175.44l-1.2,1.1M487.99,157.07l2,0.4M328.06,172.21l-1.2,1.1M496.99,150.16l2,0.4M320.39,67.39l-2,-0.3M320.39,99.74l-2,-0.3M320.39,132.09l-2,-0.3M320.39,164.44l-2,-0.3" stroke="#222" stroke-width="0.7" fill="none"/>
<text x="373" y="211.4" font-size="9.8" text-anchor="middle" font-weight="bold">Y/(km)</text>
<text x="497.5" y="205.4" font-size="9.8" text-anchor="middle" font-weight="bold">X/(km)</text>
<text transform="translate(299.6,119.2) rotate(-90)" font-size="9.8" text-anchor="middle" font-weight="bold">Depth/(km)</text>
<rect x="518.3" y="24.3" width="9.8" height="166" fill="url(#cb)" stroke="#333" stroke-width="0.4"/>
<text x="532.1" y="28.6" font-size="9.5" text-anchor="start" font-weight="bold">1</text>
<text x="532.1" y="61.6" font-size="9.5" text-anchor="start" font-weight="bold">0.8</text>
<text x="532.1" y="94.6" font-size="9.5" text-anchor="start" font-weight="bold">0.6</text>
<text x="532.1" y="127.5" font-size="9.5" text-anchor="start" font-weight="bold">0.4</text>
<text x="532.1" y="160.5" font-size="9.5" text-anchor="start" font-weight="bold">0.2</text>
<text x="532.1" y="193.5" font-size="9.5" text-anchor="start" font-weight="bold">0</text>
<path d="M528.1,58.4h-1.6M528.1,91.4h-1.6M528.1,124.3h-1.6M528.1,157.3h-1.6" stroke="#222" stroke-width="0.5" fill="none"/>
<text x="511.4" y="19.1" font-size="9.7" text-anchor="start" font-weight="bold">g/cm<tspan dy="-3.6" font-size="7.5">3</tspan></text>
<text x="283.4" y="31.3" font-size="19.5" text-anchor="start" font-weight="normal" class="pl">(b)</text>
<path d="M382.77,51.42L382.77,89.27M371.83,97.67L382.77,89.27L414.41,94.62M371.83,59.82L382.77,51.42L414.41,56.77" stroke="#0a0a0a" stroke-width="2.7" fill="none" stroke-linejoin="round" stroke-linecap="round"/>
<path d="M384.54,72.54L386.36,71.14L382.41,70.47L380.58,71.87Z" fill="#e6f09a" stroke="#352e1c" stroke-width="0.7" stroke-linejoin="round"/>
<path d="M388.5,60.26L390.32,58.86L386.36,58.2L384.54,59.6Z" fill="#fbf7ab" stroke="#352e1c" stroke-width="0.7" stroke-linejoin="round"/>
<path d="M392.45,60.93L394.27,59.53L390.32,58.86L388.5,60.26Z" fill="#fedc89" stroke="#352e1c" stroke-width="0.7" stroke-linejoin="round"/>
<path d="M396.4,61.6L398.23,60.2L394.27,59.53L392.45,60.93Z" fill="#fdbc6a" stroke="#352e1c" stroke-width="0.7" stroke-linejoin="round"/>
<path d="M400.36,62.27L402.18,60.87L398.23,60.2L396.4,61.6Z" fill="#fdc26f" stroke="#352e1c" stroke-width="0.7" stroke-linejoin="round"/>
<path d="M404.31,62.94L406.14,61.54L402.18,60.87L400.36,62.27Z" fill="#fedd8b" stroke="#352e1c" stroke-width="0.7" stroke-linejoin="round"/>
<path d="M408.27,63.6L410.09,62.2L406.14,61.54L404.31,62.94Z" fill="#fcf4a8" stroke="#352e1c" stroke-width="0.7" stroke-linejoin="round"/>
<path d="M412.22,122.5L414.05,121.1L414.05,127.57L412.22,128.97Z" fill="#eef3a1" stroke="#352e1c" stroke-width="0.7" stroke-linejoin="round"/>
<path d="M412.22,116.03L414.05,114.63L414.05,121.1L412.22,122.5Z" fill="#eaf19d" stroke="#352e1c" stroke-width="0.7" stroke-linejoin="round"/>
<path d="M412.22,109.56L414.05,108.16L414.05,114.63L412.22,116.03Z" fill="#e6f09a" stroke="#352e1c" stroke-width="0.7" stroke-linejoin="round"/>
<path d="M412.22,103.09L414.05,101.69L414.05,108.16L412.22,109.56Z" fill="#e7f09a" stroke="#352e1c" stroke-width="0.7" stroke-linejoin="round"/>
<path d="M412.22,96.62L414.05,95.22L414.05,101.69L412.22,103.09Z" fill="#e7f09b" stroke="#352e1c" stroke-width="0.7" stroke-linejoin="round"/>
<path d="M412.22,90.15L414.05,88.75L414.05,95.22L412.22,96.62Z" fill="#e6f09a" stroke="#352e1c" stroke-width="0.7" stroke-linejoin="round"/>
<path d="M412.22,83.68L414.05,82.28L414.05,88.75L412.22,90.15Z" fill="#eef3a1" stroke="#352e1c" stroke-width="0.7" stroke-linejoin="round"/>
<path d="M412.22,77.21L414.05,75.81L414.05,82.28L412.22,83.68Z" fill="#e5ef99" stroke="#352e1c" stroke-width="0.7" stroke-linejoin="round"/>
<path d="M412.22,70.74L414.05,69.34L414.05,75.81L412.22,77.21Z" fill="#ecf29f" stroke="#352e1c" stroke-width="0.7" stroke-linejoin="round"/>
<path d="M412.22,64.27L414.05,62.87L410.09,62.2L408.27,63.6ZM412.22,64.27L414.05,62.87L414.05,69.34L412.22,70.74Z" fill="#eef3a1" stroke="#352e1c" stroke-width="0.7" stroke-linejoin="round"/>
<path d="M382.72,73.94L384.54,72.54L380.58,71.87L378.76,73.27Z" fill="#ecf29f" stroke="#352e1c" stroke-width="0.7" stroke-linejoin="round"/>
<path d="M386.67,61.66L388.5,60.26L384.54,59.6L382.72,61Z" fill="#faf8ac" stroke="#352e1c" stroke-width="0.7" stroke-linejoin="round"/>
<path d="M390.63,62.33L392.45,60.93L388.5,60.26L386.67,61.66Z" fill="#fee393" stroke="#352e1c" stroke-width="0.7" stroke-linejoin="round"/>
<path d="M394.58,63L396.4,61.6L392.45,60.93L390.63,62.33Z" fill="#fdba68" stroke="#352e1c" stroke-width="0.7" stroke-linejoin="round"/>
<path d="M398.54,63.67L400.36,62.27L396.4,61.6L394.58,63Z" fill="#fdbf6d" stroke="#352e1c" stroke-width="0.7" stroke-linejoin="round"/>
<path d="M402.49,135.51L404.31,134.11L404.31,140.58L402.49,141.98Z" fill="#edf3a0" stroke="#352e1c" stroke-width="0.7" stroke-linejoin="round"/>
<path d="M402.49,64.34L404.31,62.94L400.36,62.27L398.54,63.67Z" fill="#fed884" stroke="#352e1c" stroke-width="0.7" stroke-linejoin="round"/>
<path d="M406.45,129.7L408.27,128.3L408.27,134.77L406.45,136.17Z" fill="#edf3a0" stroke="#352e1c" stroke-width="0.7" stroke-linejoin="round"/>
<path d="M406.45,65L408.27,63.6L404.31,62.94L402.49,64.34Z" fill="#fcf5a9" stroke="#352e1c" stroke-width="0.7" stroke-linejoin="round"/>
<path d="M410.4,123.9L412.22,122.5L412.22,128.97L410.4,130.37Z" fill="#edf2a0" stroke="#352e1c" stroke-width="0.7" stroke-linejoin="round"/>
<path d="M410.4,117.43L412.22,116.03L412.22,122.5L410.4,123.9Z" fill="#e7f09a" stroke="#352e1c" stroke-width="0.7" stroke-linejoin="round"/>
<path d="M410.4,110.96L412.22,109.56L412.22,116.03L410.4,117.43Z" fill="#eaf19d" stroke="#352e1c" stroke-width="0.7" stroke-linejoin="round"/>
<path d="M410.4,104.49L412.22,103.09L412.22,109.56L410.4,110.96Z" fill="#e9f19d" stroke="#352e1c" stroke-width="0.7" stroke-linejoin="round"/>
<path d="M410.4,98.02L412.22,96.62L412.22,103.09L410.4,104.49Z" fill="#edf2a0" stroke="#352e1c" stroke-width="0.7" stroke-linejoin="round"/>
<path d="M410.4,91.55L412.22,90.15L412.22,96.62L410.4,98.02Z" fill="#e9f19d" stroke="#352e1c" stroke-width="0.7" stroke-linejoin="round"/>
<path d="M410.4,85.08L412.22,83.68L412.22,90.15L410.4,91.55Z" fill="#e7f09a" stroke="#352e1c" stroke-width="0.7" stroke-linejoin="round"/>
<path d="M410.4,78.61L412.22,77.21L412.22,83.68L410.4,85.08Z" fill="#eff3a2" stroke="#352e1c" stroke-width="0.7" stroke-linejoin="round"/>
<path d="M410.4,72.14L412.22,70.74L412.22,77.21L410.4,78.61Z" fill="#e5ef99" stroke="#352e1c" stroke-width="0.7" stroke-linejoin="round"/>
<path d="M410.4,65.67L412.22,64.27L408.27,63.6L406.45,65ZM410.4,65.67L412.22,64.27L412.22,70.74L410.4,72.14Z" fill="#edf3a0" stroke="#352e1c" stroke-width="0.7" stroke-linejoin="round"/>
<path d="M380.89,75.34L382.72,73.94L378.76,73.27L376.94,74.67Z" fill="#e5ef99" stroke="#352e1c" stroke-width="0.7" stroke-linejoin="round"/>
<path d="M384.85,63.06L386.67,61.66L382.72,61L380.89,62.4Z" fill="#fdf3a7" stroke="#352e1c" stroke-width="0.7" stroke-linejoin="round"/>
<path d="M388.8,63.73L390.63,62.33L386.67,61.66L384.85,63.06Z" fill="#feda88" stroke="#352e1c" stroke-width="0.7" stroke-linejoin="round"/>
<path d="M392.76,64.4L394.58,63L390.63,62.33L388.8,63.73Z" fill="#fdbe6b" stroke="#352e1c" stroke-width="0.7" stroke-linejoin="round"/>
<path d="M396.71,142.71L398.54,141.31L398.54,147.78L396.71,149.18Z" fill="#ecf29f" stroke="#352e1c" stroke-width="0.7" stroke-linejoin="round"/>
<path d="M396.71,65.07L398.54,63.67L394.58,63L392.76,64.4Z" fill="#fdc16e" stroke="#352e1c" stroke-width="0.7" stroke-linejoin="round"/>
<path d="M400.67,136.91L402.49,135.51L402.49,141.98L400.67,143.38Z" fill="#ecf29f" stroke="#352e1c" stroke-width="0.7" stroke-linejoin="round"/>
<path d="M400.67,65.74L402.49,64.34L398.54,63.67L396.71,65.07Z" fill="#fedf8e" stroke="#352e1c" stroke-width="0.7" stroke-linejoin="round"/>
<path d="M404.62,131.1L406.45,129.7L406.45,136.17L404.62,137.57Z" fill="#edf3a1" stroke="#352e1c" stroke-width="0.7" stroke-linejoin="round"/>
<path d="M404.62,66.4L406.45,65L402.49,64.34L400.67,65.74Z" fill="#fdf3a7" stroke="#352e1c" stroke-width="0.7" stroke-linejoin="round"/>
<path d="M408.58,125.3L410.4,123.9L410.4,130.37L408.58,131.77Z" fill="#ecf29f" stroke="#352e1c" stroke-width="0.7" stroke-linejoin="round"/>
<path d="M408.58,118.83L410.4,117.43L410.4,123.9L408.58,125.3Z" fill="#ecf29f" stroke="#352e1c" stroke-width="0.7" stroke-linejoin="round"/>
<path d="M408.58,112.36L410.4,110.96L410.4,117.43L408.58,118.83Z" fill="#e6ef99" stroke="#352e1c" stroke-width="0.7" stroke-linejoin="round"/>
<path d="M408.58,105.89L410.4,104.49L410.4,110.96L408.58,112.36Z" fill="#e6f09a" stroke="#352e1c" stroke-width="0.7" stroke-linejoin="round"/>
<path d="M408.58,99.42L410.4,98.02L410.4,104.49L408.58,105.89Z" fill="#eaf29e" stroke="#352e1c" stroke-width="0.7" stroke-linejoin="round"/>
<path d="M408.58,92.95L410.4,91.55L410.4,98.02L408.58,99.42Z" fill="#edf3a0" stroke="#352e1c" stroke-width="0.7" stroke-linejoin="round"/>
<path d="M408.58,86.48L410.4,85.08L410.4,91.55L408.58,92.95Z" fill="#ebf29e" stroke="#352e1c" stroke-width="0.7" stroke-linejoin="round"/>
<path d="M408.58,80.01L410.4,78.61L410.4,85.08L408.58,86.48Z" fill="#e9f19c" stroke="#352e1c" stroke-width="0.7" stroke-linejoin="round"/>
<path d="M408.58,73.54L410.4,72.14L410.4,78.61L408.58,80.01Z" fill="#ebf29e" stroke="#352e1c" stroke-width="0.7" stroke-linejoin="round"/>
<path d="M408.58,67.07L410.4,65.67L406.45,65L404.62,66.4ZM408.58,67.07L410.4,65.67L410.4,72.14L408.58,73.54Z" fill="#ecf29f" stroke="#352e1c" stroke-width="0.7" stroke-linejoin="round"/>
<path d="M379.07,76.74L380.89,75.34L376.94,74.67L375.12,76.07Z" fill="#e9f19d" stroke="#352e1c" stroke-width="0.7" stroke-linejoin="round"/>
<path d="M383.03,64.46L384.85,63.06L380.89,62.4L379.07,63.8Z" fill="#fdf2a6" stroke="#352e1c" stroke-width="0.7" stroke-linejoin="round"/>
<path d="M386.98,65.13L388.8,63.73L384.85,63.06L383.03,64.46Z" fill="#fed581" stroke="#352e1c" stroke-width="0.7" stroke-linejoin="round"/>
<path d="M390.94,143.44L386.98,142.77L386.98,149.24L390.94,149.91Z" fill="#e8f09b" stroke="#352e1c" stroke-width="0.7" stroke-linejoin="round"/>
<path d="M390.94,65.8L392.76,64.4L388.8,63.73L386.98,65.13Z" fill="#fdac5f" stroke="#352e1c" stroke-width="0.7" stroke-linejoin="round"/>
<path d="M394.89,144.11L390.94,143.44L390.94,149.91L394.89,150.58ZM394.89,144.11L396.71,142.71L396.71,149.18L394.89,150.58Z" fill="#e5ef99" stroke="#352e1c" stroke-width="0.7" stroke-linejoin="round"/>
<path d="M394.89,66.47L396.71,65.07L392.76,64.4L390.94,65.8Z" fill="#fdab5f" stroke="#352e1c" stroke-width="0.7" stroke-linejoin="round"/>
<path d="M398.85,138.31L400.67,136.91L400.67,143.38L398.85,144.78Z" fill="#eaf19d" stroke="#352e1c" stroke-width="0.7" stroke-linejoin="round"/>
<path d="M398.85,67.14L400.67,65.74L396.71,65.07L394.89,66.47Z" fill="#fed683" stroke="#352e1c" stroke-width="0.7" stroke-linejoin="round"/>
<path d="M402.8,132.5L404.62,131.1L404.62,137.57L402.8,138.97Z" fill="#ebf29e" stroke="#352e1c" stroke-width="0.7" stroke-linejoin="round"/>
<path d="M402.8,67.8L404.62,66.4L400.67,65.74L398.85,67.14Z" fill="#faf7ab" stroke="#352e1c" stroke-width="0.7" stroke-linejoin="round"/>
<path d="M406.76,126.7L408.58,125.3L408.58,131.77L406.76,133.17Z" fill="#e5ef99" stroke="#352e1c" stroke-width="0.7" stroke-linejoin="round"/>
<path d="M406.76,120.23L408.58,118.83L408.58,125.3L406.76,126.7Z" fill="#eef3a1" stroke="#352e1c" stroke-width="0.7" stroke-linejoin="round"/>
<path d="M406.76,113.76L408.58,112.36L408.58,118.83L406.76,120.23Z" fill="#e6f09a" stroke="#352e1c" stroke-width="0.7" stroke-linejoin="round"/>
<path d="M406.76,107.29L408.58,105.89L408.58,112.36L406.76,113.76Z" fill="#e6f09a" stroke="#352e1c" stroke-width="0.7" stroke-linejoin="round"/>
<path d="M406.76,100.82L408.58,99.42L408.58,105.89L406.76,107.29Z" fill="#e9f19c" stroke="#352e1c" stroke-width="0.7" stroke-linejoin="round"/>
<path d="M406.76,94.35L408.58,92.95L408.58,99.42L406.76,100.82Z" fill="#eef3a1" stroke="#352e1c" stroke-width="0.7" stroke-linejoin="round"/>
<path d="M406.76,87.88L408.58,86.48L408.58,92.95L406.76,94.35Z" fill="#e9f19c" stroke="#352e1c" stroke-width="0.7" stroke-linejoin="round"/>
<path d="M406.76,81.41L408.58,80.01L408.58,86.48L406.76,87.88Z" fill="#e7f09a" stroke="#352e1c" stroke-width="0.7" stroke-linejoin="round"/>
<path d="M406.76,74.94L408.58,73.54L408.58,80.01L406.76,81.41Z" fill="#e5ef99" stroke="#352e1c" stroke-width="0.7" stroke-linejoin="round"/>
<path d="M406.76,68.47L408.58,67.07L404.62,66.4L402.8,67.8ZM406.76,68.47L408.58,67.07L408.58,73.54L406.76,74.94Z" fill="#edf2a0" stroke="#352e1c" stroke-width="0.7" stroke-linejoin="round"/>
<path d="M377.25,78.14L379.07,76.74L375.12,76.07L373.29,77.47Z" fill="#e7f09a" stroke="#352e1c" stroke-width="0.7" stroke-linejoin="round"/>
<path d="M381.2,130.56L377.25,129.9L377.25,136.37L381.2,137.03Z" fill="#eef3a1" stroke="#352e1c" stroke-width="0.7" stroke-linejoin="round"/>
<path d="M381.2,65.86L383.03,64.46L379.07,63.8L377.25,65.2Z" fill="#fdf2a7" stroke="#352e1c" stroke-width="0.7" stroke-linejoin="round"/>
<path d="M385.16,137.7L381.2,137.03L381.2,143.5L385.16,144.17Z" fill="#e9f19c" stroke="#352e1c" stroke-width="0.7" stroke-linejoin="round"/>
<path d="M385.16,66.53L386.98,65.13L383.03,64.46L381.2,65.86Z" fill="#fed17e" stroke="#352e1c" stroke-width="0.7" stroke-linejoin="round"/>
<path d="M389.11,138.37L385.16,137.7L385.16,144.17L389.11,144.84Z" fill="#eaf19d" stroke="#352e1c" stroke-width="0.7" stroke-linejoin="round"/>
<path d="M389.11,67.2L390.94,65.8L386.98,65.13L385.16,66.53Z" fill="#fdb061" stroke="#352e1c" stroke-width="0.7" stroke-linejoin="round"/>
<path d="M393.07,139.04L389.11,138.37L389.11,144.84L393.07,145.51Z" fill="#eff4a2" stroke="#352e1c" stroke-width="0.7" stroke-linejoin="round"/>
<path d="M393.07,67.87L394.89,66.47L390.94,65.8L389.11,67.2Z" fill="#fdba68" stroke="#352e1c" stroke-width="0.7" stroke-linejoin="round"/>
<path d="M397.02,139.71L393.07,139.04L393.07,145.51L397.02,146.18ZM397.02,139.71L398.85,138.31L398.85,144.78L397.02,146.18Z" fill="#edf3a0" stroke="#352e1c" stroke-width="0.7" stroke-linejoin="round"/>
<path d="M397.02,68.54L398.85,67.14L394.89,66.47L393.07,67.87Z" fill="#feda87" stroke="#352e1c" stroke-width="0.7" stroke-linejoin="round"/>
<path d="M400.98,133.9L402.8,132.5L402.8,138.97L400.98,140.37Z" fill="#e7f09b" stroke="#352e1c" stroke-width="0.7" stroke-linejoin="round"/>
<path d="M400.98,69.2L402.8,67.8L398.85,67.14L397.02,68.54Z" fill="#f9f8ab" stroke="#352e1c" stroke-width="0.7" stroke-linejoin="round"/>
<path d="M404.93,128.1L406.76,126.7L406.76,133.17L404.93,134.57Z" fill="#eaf19e" stroke="#352e1c" stroke-width="0.7" stroke-linejoin="round"/>
<path d="M404.93,121.63L406.76,120.23L406.76,126.7L404.93,128.1Z" fill="#ebf29e" stroke="#352e1c" stroke-width="0.7" stroke-linejoin="round"/>
<path d="M404.93,115.16L406.76,113.76L406.76,120.23L404.93,121.63Z" fill="#e5ef99" stroke="#352e1c" stroke-width="0.7" stroke-linejoin="round"/>
<path d="M404.93,108.69L406.76,107.29L406.76,113.76L404.93,115.16Z" fill="#ecf2a0" stroke="#352e1c" stroke-width="0.7" stroke-linejoin="round"/>
<path d="M404.93,102.22L406.76,100.82L406.76,107.29L404.93,108.69Z" fill="#e8f09b" stroke="#352e1c" stroke-width="0.7" stroke-linejoin="round"/>
<path d="M404.93,95.75L406.76,94.35L406.76,100.82L404.93,102.22Z" fill="#eff4a2" stroke="#352e1c" stroke-width="0.7" stroke-linejoin="round"/>
<path d="M404.93,89.28L406.76,87.88L406.76,94.35L404.93,95.75Z" fill="#e9f19c" stroke="#352e1c" stroke-width="0.7" stroke-linejoin="round"/>
<path d="M404.93,82.81L406.76,81.41L406.76,87.88L404.93,89.28Z" fill="#eef3a1" stroke="#352e1c" stroke-width="0.7" stroke-linejoin="round"/>
<path d="M404.93,76.34L406.76,74.94L406.76,81.41L404.93,82.81Z" fill="#e8f09b" stroke="#352e1c" stroke-width="0.7" stroke-linejoin="round"/>
<path d="M404.93,69.87L406.76,68.47L402.8,67.8L400.98,69.2ZM404.93,69.87L406.76,68.47L406.76,74.94L404.93,76.34Z" fill="#f1f4a4" stroke="#352e1c" stroke-width="0.7" stroke-linejoin="round"/>
<path d="M375.43,118.36L371.47,117.69L371.47,124.16L375.43,124.83Z" fill="#edf2a0" stroke="#352e1c" stroke-width="0.7" stroke-linejoin="round"/>
<path d="M375.43,111.89L371.47,111.22L371.47,117.69L375.43,118.36Z" fill="#e8f09b" stroke="#352e1c" stroke-width="0.7" stroke-linejoin="round"/>
<path d="M375.43,105.42L371.47,104.75L371.47,111.22L375.43,111.89Z" fill="#eff3a2" stroke="#352e1c" stroke-width="0.7" stroke-linejoin="round"/>
<path d="M375.43,98.95L371.47,98.28L371.47,104.75L375.43,105.42Z" fill="#e7f09b" stroke="#352e1c" stroke-width="0.7" stroke-linejoin="round"/>
<path d="M375.43,92.48L371.47,91.81L371.47,98.28L375.43,98.95Z" fill="#f0f4a3" stroke="#352e1c" stroke-width="0.7" stroke-linejoin="round"/>
<path d="M375.43,86.01L371.47,85.34L371.47,91.81L375.43,92.48Z" fill="#e9f19c" stroke="#352e1c" stroke-width="0.7" stroke-linejoin="round"/>
<path d="M375.43,79.54L377.25,78.14L373.29,77.47L371.47,78.87ZM375.43,79.54L371.47,78.87L371.47,85.34L375.43,86.01Z" fill="#eff3a2" stroke="#352e1c" stroke-width="0.7" stroke-linejoin="round"/>
<path d="M379.38,125.49L375.43,124.83L375.43,131.3L379.38,131.96Z" fill="#eaf19d" stroke="#352e1c" stroke-width="0.7" stroke-linejoin="round"/>
<path d="M379.38,119.02L375.43,118.36L375.43,124.83L379.38,125.49Z" fill="#e5ef99" stroke="#352e1c" stroke-width="0.7" stroke-linejoin="round"/>
<path d="M379.38,112.55L375.43,111.89L375.43,118.36L379.38,119.02Z" fill="#e6f09a" stroke="#352e1c" stroke-width="0.7" stroke-linejoin="round"/>
<path d="M379.38,106.08L375.43,105.42L375.43,111.89L379.38,112.55Z" fill="#ebf29e" stroke="#352e1c" stroke-width="0.7" stroke-linejoin="round"/>
<path d="M379.38,99.61L375.43,98.95L375.43,105.42L379.38,106.08Z" fill="#f0f4a2" stroke="#352e1c" stroke-width="0.7" stroke-linejoin="round"/>
<path d="M379.38,93.14L375.43,92.48L375.43,98.95L379.38,99.61Z" fill="#f2f5a5" stroke="#352e1c" stroke-width="0.7" stroke-linejoin="round"/>
<path d="M379.38,86.67L375.43,86.01L375.43,92.48L379.38,93.14Z" fill="#ecf29f" stroke="#352e1c" stroke-width="0.7" stroke-linejoin="round"/>
<path d="M379.38,80.2L375.43,79.54L375.43,86.01L379.38,86.67Z" fill="#eef3a1" stroke="#352e1c" stroke-width="0.7" stroke-linejoin="round"/>
<path d="M379.38,73.73L375.43,73.07L375.43,79.54L379.38,80.2Z" fill="#eff3a2" stroke="#352e1c" stroke-width="0.7" stroke-linejoin="round"/>
<path d="M379.38,67.26L381.2,65.86L377.25,65.2L375.43,66.6ZM379.38,67.26L375.43,66.6L375.43,73.07L379.38,73.73Z" fill="#faf8ac" stroke="#352e1c" stroke-width="0.7" stroke-linejoin="round"/>
<path d="M383.34,132.63L379.38,131.96L379.38,138.43L383.34,139.1Z" fill="#ecf29f" stroke="#352e1c" stroke-width="0.7" stroke-linejoin="round"/>
<path d="M383.34,126.16L379.38,125.49L379.38,131.96L383.34,132.63Z" fill="#e9f19c" stroke="#352e1c" stroke-width="0.7" stroke-linejoin="round"/>
<path d="M383.34,119.69L379.38,119.02L379.38,125.49L383.34,126.16Z" fill="#e8f09b" stroke="#352e1c" stroke-width="0.7" stroke-linejoin="round"/>
<path d="M383.34,113.22L379.38,112.55L379.38,119.02L383.34,119.69Z" fill="#f1f4a3" stroke="#352e1c" stroke-width="0.7" stroke-linejoin="round"/>
<path d="M383.34,106.75L379.38,106.08L379.38,112.55L383.34,113.22Z" fill="#eff3a2" stroke="#352e1c" stroke-width="0.7" stroke-linejoin="round"/>
<path d="M383.34,100.28L379.38,99.61L379.38,106.08L383.34,106.75Z" fill="#faf7ab" stroke="#352e1c" stroke-width="0.7" stroke-linejoin="round"/>
<path d="M383.34,93.81L379.38,93.14L379.38,99.61L383.34,100.28Z" fill="#fcf4a9" stroke="#352e1c" stroke-width="0.7" stroke-linejoin="round"/>
<path d="M383.34,87.34L379.38,86.67L379.38,93.14L383.34,93.81Z" fill="#fdf3a7" stroke="#352e1c" stroke-width="0.7" stroke-linejoin="round"/>
<path d="M383.34,80.87L379.38,80.2L379.38,86.67L383.34,87.34Z" fill="#fdf2a7" stroke="#352e1c" stroke-width="0.7" stroke-linejoin="round"/>
<path d="M383.34,74.4L379.38,73.73L379.38,80.2L383.34,80.87Z" fill="#fcf5a9" stroke="#352e1c" stroke-width="0.7" stroke-linejoin="round"/>
<path d="M383.34,67.93L385.16,66.53L381.2,65.86L379.38,67.26ZM383.34,67.93L379.38,67.26L379.38,73.73L383.34,74.4Z" fill="#fed17d" stroke="#352e1c" stroke-width="0.7" stroke-linejoin="round"/>
<path d="M387.29,133.3L383.34,132.63L383.34,139.1L387.29,139.77Z" fill="#ecf29f" stroke="#352e1c" stroke-width="0.7" stroke-linejoin="round"/>
<path d="M387.29,126.83L383.34,126.16L383.34,132.63L387.29,133.3Z" fill="#e5ef99" stroke="#352e1c" stroke-width="0.7" stroke-linejoin="round"/>
<path d="M387.29,120.36L383.34,119.69L383.34,126.16L387.29,126.83Z" fill="#e5ef99" stroke="#352e1c" stroke-width="0.7" stroke-linejoin="round"/>
<path d="M387.29,113.89L383.34,113.22L383.34,119.69L387.29,120.36Z" fill="#f0f4a3" stroke="#352e1c" stroke-width="0.7" stroke-linejoin="round"/>
<path d="M387.29,107.42L383.34,106.75L383.34,113.22L387.29,113.89Z" fill="#f3f5a6" stroke="#352e1c" stroke-width="0.7" stroke-linejoin="round"/>
<path d="M387.29,100.95L383.34,100.28L383.34,106.75L387.29,107.42Z" fill="#fdf3a7" stroke="#352e1c" stroke-width="0.7" stroke-linejoin="round"/>
<path d="M387.29,94.48L383.34,93.81L383.34,100.28L387.29,100.95Z" fill="#fec875" stroke="#352e1c" stroke-width="0.7" stroke-linejoin="round"/>
<path d="M387.29,88.01L383.34,87.34L383.34,93.81L387.29,94.48Z" fill="#fdbb68" stroke="#352e1c" stroke-width="0.7" stroke-linejoin="round"/>
<path d="M387.29,81.54L383.34,80.87L383.34,87.34L387.29,88.01Z" fill="#fece7b" stroke="#352e1c" stroke-width="0.7" stroke-linejoin="round"/>
<path d="M387.29,75.07L383.34,74.4L383.34,80.87L387.29,81.54Z" fill="#fee799" stroke="#352e1c" stroke-width="0.7" stroke-linejoin="round"/>
<path d="M387.29,68.6L389.11,67.2L385.16,66.53L383.34,67.93ZM387.29,68.6L383.34,67.93L383.34,74.4L387.29,75.07Z" fill="#fda25a" stroke="#352e1c" stroke-width="0.7" stroke-linejoin="round"/>
<path d="M391.25,133.97L387.29,133.3L387.29,139.77L391.25,140.44Z" fill="#eff3a1" stroke="#352e1c" stroke-width="0.7" stroke-linejoin="round"/>
<path d="M391.25,127.5L387.29,126.83L387.29,133.3L391.25,133.97Z" fill="#e9f19c" stroke="#352e1c" stroke-width="0.7" stroke-linejoin="round"/>
<path d="M391.25,121.03L387.29,120.36L387.29,126.83L391.25,127.5Z" fill="#e9f19c" stroke="#352e1c" stroke-width="0.7" stroke-linejoin="round"/>
<path d="M391.25,114.56L387.29,113.89L387.29,120.36L391.25,121.03Z" fill="#f1f4a4" stroke="#352e1c" stroke-width="0.7" stroke-linejoin="round"/>
<path d="M391.25,108.09L387.29,107.42L387.29,113.89L391.25,114.56Z" fill="#f2f5a5" stroke="#352e1c" stroke-width="0.7" stroke-linejoin="round"/>
<path d="M391.25,101.62L387.29,100.95L387.29,107.42L391.25,108.09Z" fill="#fcf5a9" stroke="#352e1c" stroke-width="0.7" stroke-linejoin="round"/>
<path d="M391.25,95.15L387.29,94.48L387.29,100.95L391.25,101.62Z" fill="#feeda0" stroke="#352e1c" stroke-width="0.7" stroke-linejoin="round"/>
<path d="M391.25,88.68L387.29,88.01L387.29,94.48L391.25,95.15Z" fill="#feda87" stroke="#352e1c" stroke-width="0.7" stroke-linejoin="round"/>
<path d="M391.25,82.21L387.29,81.54L387.29,88.01L391.25,88.68Z" fill="#fee190" stroke="#352e1c" stroke-width="0.7" stroke-linejoin="round"/>
<path d="M391.25,75.74L387.29,75.07L387.29,81.54L391.25,82.21Z" fill="#fcf4a9" stroke="#352e1c" stroke-width="0.7" stroke-linejoin="round"/>
<path d="M391.25,69.27L393.07,67.87L389.11,67.2L387.29,68.6ZM391.25,69.27L387.29,68.6L387.29,75.07L391.25,75.74Z" fill="#fdb966" stroke="#352e1c" stroke-width="0.7" stroke-linejoin="round"/>
<path d="M395.2,134.64L391.25,133.97L391.25,140.44L395.2,141.11Z" fill="#ebf29e" stroke="#352e1c" stroke-width="0.7" stroke-linejoin="round"/>
<path d="M395.2,128.17L391.25,127.5L391.25,133.97L395.2,134.64Z" fill="#e8f19c" stroke="#352e1c" stroke-width="0.7" stroke-linejoin="round"/>
<path d="M395.2,121.7L391.25,121.03L391.25,127.5L395.2,128.17Z" fill="#e7f09a" stroke="#352e1c" stroke-width="0.7" stroke-linejoin="round"/>
<path d="M395.2,115.23L391.25,114.56L391.25,121.03L395.2,121.7Z" fill="#e6f099" stroke="#352e1c" stroke-width="0.7" stroke-linejoin="round"/>
<path d="M395.2,108.76L391.25,108.09L391.25,114.56L395.2,115.23Z" fill="#ebf29f" stroke="#352e1c" stroke-width="0.7" stroke-linejoin="round"/>
<path d="M395.2,102.29L391.25,101.62L391.25,108.09L395.2,108.76Z" fill="#edf3a0" stroke="#352e1c" stroke-width="0.7" stroke-linejoin="round"/>
<path d="M395.2,95.82L391.25,95.15L391.25,101.62L395.2,102.29Z" fill="#edf2a0" stroke="#352e1c" stroke-width="0.7" stroke-linejoin="round"/>
<path d="M395.2,89.35L391.25,88.68L391.25,95.15L395.2,95.82Z" fill="#ebf29f" stroke="#352e1c" stroke-width="0.7" stroke-linejoin="round"/>
<path d="M395.2,82.88L391.25,82.21L391.25,88.68L395.2,89.35Z" fill="#eff3a2" stroke="#352e1c" stroke-width="0.7" stroke-linejoin="round"/>
<path d="M395.2,76.41L391.25,75.74L391.25,82.21L395.2,82.88Z" fill="#ebf29e" stroke="#352e1c" stroke-width="0.7" stroke-linejoin="round"/>
<path d="M395.2,69.94L397.02,68.54L393.07,67.87L391.25,69.27ZM395.2,69.94L391.25,69.27L391.25,75.74L395.2,76.41Z" fill="#fed581" stroke="#352e1c" stroke-width="0.7" stroke-linejoin="round"/>
<path d="M399.16,135.3L395.2,134.64L395.2,141.11L399.16,141.77ZM399.16,135.3L400.98,133.9L400.98,140.37L399.16,141.77Z" fill="#eef3a1" stroke="#352e1c" stroke-width="0.7" stroke-linejoin="round"/>
<path d="M399.16,128.83L395.2,128.17L395.2,134.64L399.16,135.3Z" fill="#eff4a2" stroke="#352e1c" stroke-width="0.7" stroke-linejoin="round"/>
<path d="M399.16,122.36L395.2,121.7L395.2,128.17L399.16,128.83Z" fill="#eaf19e" stroke="#352e1c" stroke-width="0.7" stroke-linejoin="round"/>
<path d="M399.16,115.89L395.2,115.23L395.2,121.7L399.16,122.36Z" fill="#eaf19e" stroke="#352e1c" stroke-width="0.7" stroke-linejoin="round"/>
<path d="M399.16,109.42L395.2,108.76L395.2,115.23L399.16,115.89Z" fill="#eaf19e" stroke="#352e1c" stroke-width="0.7" stroke-linejoin="round"/>
<path d="M399.16,102.95L395.2,102.29L395.2,108.76L399.16,109.42Z" fill="#ecf29f" stroke="#352e1c" stroke-width="0.7" stroke-linejoin="round"/>
<path d="M399.16,96.48L395.2,95.82L395.2,102.29L399.16,102.95Z" fill="#e8f19c" stroke="#352e1c" stroke-width="0.7" stroke-linejoin="round"/>
<path d="M399.16,90.01L395.2,89.35L395.2,95.82L399.16,96.48Z" fill="#e9f19d" stroke="#352e1c" stroke-width="0.7" stroke-linejoin="round"/>
<path d="M399.16,83.54L395.2,82.88L395.2,89.35L399.16,90.01Z" fill="#e8f09b" stroke="#352e1c" stroke-width="0.7" stroke-linejoin="round"/>
<path d="M399.16,77.07L395.2,76.41L395.2,82.88L399.16,83.54Z" fill="#edf2a0" stroke="#352e1c" stroke-width="0.7" stroke-linejoin="round"/>
<path d="M399.16,70.6L400.98,69.2L397.02,68.54L395.2,69.94ZM399.16,70.6L395.2,69.94L395.2,76.41L399.16,77.07Z" fill="#faf8ac" stroke="#352e1c" stroke-width="0.7" stroke-linejoin="round"/>
<path d="M403.11,129.5L399.16,128.83L399.16,135.3L403.11,135.97ZM403.11,129.5L404.93,128.1L404.93,134.57L403.11,135.97Z" fill="#e7f09b" stroke="#352e1c" stroke-width="0.7" stroke-linejoin="round"/>
<path d="M403.11,123.03L399.16,122.36L399.16,128.83L403.11,129.5ZM403.11,123.03L404.93,121.63L404.93,128.1L403.11,129.5Z" fill="#e8f09b" stroke="#352e1c" stroke-width="0.7" stroke-linejoin="round"/>
<path d="M403.11,116.56L399.16,115.89L399.16,122.36L403.11,123.03ZM403.11,116.56L404.93,115.16L404.93,121.63L403.11,123.03Z" fill="#ecf29f" stroke="#352e1c" stroke-width="0.7" stroke-linejoin="round"/>
<path d="M403.11,110.09L399.16,109.42L399.16,115.89L403.11,116.56ZM403.11,110.09L404.93,108.69L404.93,115.16L403.11,116.56Z" fill="#ebf29f" stroke="#352e1c" stroke-width="0.7" stroke-linejoin="round"/>
<path d="M403.11,103.62L399.16,102.95L399.16,109.42L403.11,110.09ZM403.11,103.62L404.93,102.22L404.93,108.69L403.11,110.09Z" fill="#eff4a2" stroke="#352e1c" stroke-width="0.7" stroke-linejoin="round"/>
<path d="M403.11,97.15L399.16,96.48L399.16,102.95L403.11,103.62ZM403.11,97.15L404.93,95.75L404.93,102.22L403.11,103.62Z" fill="#e5ef99" stroke="#352e1c" stroke-width="0.7" stroke-linejoin="round"/>
<path d="M403.11,90.68L399.16,90.01L399.16,96.48L403.11,97.15ZM403.11,90.68L404.93,89.28L404.93,95.75L403.11,97.15Z" fill="#e6f09a" stroke="#352e1c" stroke-width="0.7" stroke-linejoin="round"/>
<path d="M403.11,84.21L399.16,83.54L399.16,90.01L403.11,90.68ZM403.11,84.21L404.93,82.81L404.93,89.28L403.11,90.68Z" fill="#e6f09a" stroke="#352e1c" stroke-width="0.7" stroke-linejoin="round"/>
<path d="M403.11,77.74L399.16,77.07L399.16,83.54L403.11,84.21ZM403.11,77.74L404.93,76.34L404.93,82.81L403.11,84.21Z" fill="#edf3a1" stroke="#352e1c" stroke-width="0.7" stroke-linejoin="round"/>
<path d="M403.11,71.27L404.93,69.87L400.98,69.2L399.16,70.6ZM403.11,71.27L399.16,70.6L399.16,77.07L403.11,77.74ZM403.11,71.27L404.93,69.87L404.93,76.34L403.11,77.74Z" fill="#eff3a2" stroke="#352e1c" stroke-width="0.7" stroke-linejoin="round"/>
<path d="M371.83,59.82L371.83,97.67L403.47,103.02L414.41,94.62L414.41,56.77M403.47,103.02L403.47,65.17M371.83,59.82L403.47,65.17L414.41,56.77M371.83,59.82L382.77,51.42L414.41,56.77" stroke="#0a0a0a" stroke-width="2.7" fill="none" stroke-linejoin="round" stroke-linecap="round"/>
<path d="M389.42,122.43L385.47,121.76L385.47,128.23L389.42,128.9ZM389.42,122.43L391.25,121.03L391.25,127.5L389.42,128.9Z" fill="#eaf19e" stroke="#352e1c" stroke-width="0.7" stroke-linejoin="round"/>
<path d="M389.42,115.96L385.47,115.29L385.47,121.76L389.42,122.43ZM389.42,115.96L391.25,114.56L391.25,121.03L389.42,122.43Z" fill="#eaf19e" stroke="#352e1c" stroke-width="0.7" stroke-linejoin="round"/>
<path d="M389.42,109.49L385.47,108.82L385.47,115.29L389.42,115.96ZM389.42,109.49L391.25,108.09L391.25,114.56L389.42,115.96Z" fill="#eaf19e" stroke="#352e1c" stroke-width="0.7" stroke-linejoin="round"/>
<path d="M389.42,103.02L385.47,102.35L385.47,108.82L389.42,109.49ZM389.42,103.02L391.25,101.62L391.25,108.09L389.42,109.49Z" fill="#eaf19e" stroke="#352e1c" stroke-width="0.7" stroke-linejoin="round"/>
<path d="M389.42,96.55L391.25,95.15L387.29,94.48L385.47,95.88ZM389.42,96.55L385.47,95.88L385.47,102.35L389.42,103.02ZM389.42,96.55L391.25,95.15L391.25,101.62L389.42,103.02Z" fill="#eaf19e" stroke="#352e1c" stroke-width="0.7" stroke-linejoin="round"/>
<path d="M225.31,249.3L225.31,352.82L168.8,396.22M46.66,273.39L46.66,376.91L168.8,396.22M206.23,246.28L206.23,349.8L149.72,393.2M55.66,266.48L55.66,370L177.8,389.31M187.14,243.26L187.14,346.78L130.63,390.18M64.66,259.57L64.66,363.09L186.8,382.4M168.06,240.25L168.06,343.77L111.55,387.17M73.66,252.65L73.66,356.17L195.8,375.49M148.98,237.23L148.98,340.75L92.46,384.15M82.66,245.74L82.66,349.26L204.8,368.58M129.89,234.21L129.89,337.73L73.38,381.13M91.65,238.83L91.65,342.35L213.79,361.67M110.81,231.19L110.81,334.71L54.29,378.11M100.65,231.92L100.65,335.44L222.79,354.76M46.66,273.39L103.17,229.99L225.31,249.3M46.66,305.74L103.17,262.34L225.31,281.65M46.66,338.09L103.17,294.69L225.31,314M46.66,370.44L103.17,327.04L225.31,346.35" stroke="#dedede" stroke-width="0.6" fill="none"/>
<path d="M46.66,273.39L103.17,229.99L225.31,249.3L225.31,352.82M103.17,229.99L103.17,333.51L46.66,376.91M103.17,333.51L225.31,352.82" stroke="#333" stroke-width="0.6" fill="none"/>
<text x="164.1" y="409.8" font-size="9.5" text-anchor="end" font-weight="bold">0</text>
<text x="175.7" y="408.1" font-size="9.5" text-anchor="start" font-weight="bold">0</text>
<text x="145" y="406.8" font-size="9.5" text-anchor="end" font-weight="bold">5</text>
<text x="184.7" y="401.2" font-size="9.5" text-anchor="start" font-weight="bold">5</text>
<text x="125.9" y="403.8" font-size="9.5" text-anchor="end" font-weight="bold">10</text>
<text x="193.7" y="394.3" font-size="9.5" text-anchor="start" font-weight="bold">10</text>
<text x="106.8" y="400.8" font-size="9.5" text-anchor="end" font-weight="bold">15</text>
<text x="202.7" y="387.4" font-size="9.5" text-anchor="start" font-weight="bold">15</text>
<text x="87.8" y="397.7" font-size="9.5" text-anchor="end" font-weight="bold">20</text>
<text x="211.7" y="380.5" font-size="9.5" text-anchor="start" font-weight="bold">20</text>
<text x="68.7" y="394.7" font-size="9.5" text-anchor="end" font-weight="bold">25</text>
<text x="220.7" y="373.6" font-size="9.5" text-anchor="start" font-weight="bold">25</text>
<text x="49.6" y="391.7" font-size="9.5" text-anchor="end" font-weight="bold">30</text>
<text x="229.7" y="366.7" font-size="9.5" text-anchor="start" font-weight="bold">30</text>
<text x="41" y="276.2" font-size="9.5" text-anchor="end" font-weight="bold">0</text>
<text x="41" y="308.5" font-size="9.5" text-anchor="end" font-weight="bold">5</text>
<text x="41" y="340.9" font-size="9.5" text-anchor="end" font-weight="bold">10</text>
<text x="41" y="373.2" font-size="9.5" text-anchor="end" font-weight="bold">15</text>
<path d="M46.66,273.39L46.66,376.91L168.8,396.22L225.31,352.82M168.8,396.22l-1.2,1.1M168.8,396.22l2,0.4M149.72,393.2l-1.2,1.1M177.8,389.31l2,0.4M130.63,390.18l-1.2,1.1M186.8,382.4l2,0.4M111.55,387.17l-1.2,1.1M195.8,375.49l2,0.4M92.46,384.15l-1.2,1.1M204.8,368.58l2,0.4M73.38,381.13l-1.2,1.1M213.79,361.67l2,0.4M54.29,378.11l-1.2,1.1M222.79,354.76l2,0.4M46.66,273.39l-2,-0.3M46.66,305.74l-2,-0.3M46.66,338.09l-2,-0.3M46.66,370.44l-2,-0.3" stroke="#222" stroke-width="0.7" fill="none"/>
<text x="98.8" y="416" font-size="9.8" text-anchor="middle" font-weight="bold">Y/(km)</text>
<text x="223.3" y="410" font-size="9.8" text-anchor="middle" font-weight="bold">X/(km)</text>
<text transform="translate(25.9,325.1) rotate(-90)" font-size="9.8" text-anchor="middle" font-weight="bold">Depth/(km)</text>
<rect x="245" y="229.4" width="9.7" height="167.1" fill="url(#cb)" stroke="#333" stroke-width="0.4"/>
<text x="258.7" y="233.7" font-size="9.5" text-anchor="start" font-weight="bold">1</text>
<text x="258.7" y="266.9" font-size="9.5" text-anchor="start" font-weight="bold">0.8</text>
<text x="258.7" y="300.1" font-size="9.5" text-anchor="start" font-weight="bold">0.6</text>
<text x="258.7" y="333.3" font-size="9.5" text-anchor="start" font-weight="bold">0.4</text>
<text x="258.7" y="366.5" font-size="9.5" text-anchor="start" font-weight="bold">0.2</text>
<text x="258.7" y="399.7" font-size="9.5" text-anchor="start" font-weight="bold">0</text>
<path d="M254.7,263.7h-1.6M254.7,296.9h-1.6M254.7,330.1h-1.6M254.7,363.3h-1.6" stroke="#222" stroke-width="0.5" fill="none"/>
<text x="238.1" y="224.2" font-size="9.7" text-anchor="start" font-weight="bold">g/cm<tspan dy="-3.6" font-size="7.5">3</tspan></text>
<text x="7.4" y="238.1" font-size="19.5" text-anchor="start" font-weight="normal" class="pl">(c)</text>
<path d="M108.95,257.15L108.95,295M98.01,303.4L108.95,295L140.47,299.98M98.01,265.55L108.95,257.15L140.47,262.13" stroke="#0a0a0a" stroke-width="2.7" fill="none" stroke-linejoin="round" stroke-linecap="round"/>
<path d="M110.7,265.92L112.52,264.52L108.58,263.9L106.76,265.3Z" fill="#f6504a" stroke="#352e1c" stroke-width="0.7" stroke-linejoin="round"/>
<path d="M114.64,260.08L116.46,258.68L112.52,258.05L110.7,259.45Z" fill="#fcf4a9" stroke="#352e1c" stroke-width="0.7" stroke-linejoin="round"/>
<path d="M118.58,260.7L120.4,259.3L116.46,258.68L114.64,260.08Z" fill="#fcf4a8" stroke="#352e1c" stroke-width="0.7" stroke-linejoin="round"/>
<path d="M122.52,261.32L124.34,259.92L120.4,259.3L118.58,260.7Z" fill="#fcf5a9" stroke="#352e1c" stroke-width="0.7" stroke-linejoin="round"/>
<path d="M126.46,261.94L128.28,260.55L124.34,259.92L122.52,261.32Z" fill="#fed682" stroke="#352e1c" stroke-width="0.7" stroke-linejoin="round"/>
<path d="M130.4,262.57L132.22,261.17L128.28,260.55L126.46,261.94Z" fill="#fed682" stroke="#352e1c" stroke-width="0.7" stroke-linejoin="round"/>
<path d="M134.34,263.19L136.16,261.79L132.22,261.17L130.4,262.57Z" fill="#fcf3a8" stroke="#352e1c" stroke-width="0.7" stroke-linejoin="round"/>
<path d="M138.28,296.16L140.1,294.76L140.1,301.23L138.28,302.63Z" fill="#fda15a" stroke="#352e1c" stroke-width="0.7" stroke-linejoin="round"/>
<path d="M138.28,289.69L140.1,288.29L140.1,294.76L138.28,296.16Z" fill="#fcf4a8" stroke="#352e1c" stroke-width="0.7" stroke-linejoin="round"/>
<path d="M138.28,283.22L140.1,281.82L140.1,288.29L138.28,289.69Z" fill="#fcf3a8" stroke="#352e1c" stroke-width="0.7" stroke-linejoin="round"/>
<path d="M138.28,276.75L140.1,275.35L140.1,281.82L138.28,283.22Z" fill="#fda75d" stroke="#352e1c" stroke-width="0.7" stroke-linejoin="round"/>
<path d="M138.28,270.28L140.1,268.88L140.1,275.35L138.28,276.75Z" fill="#fda75d" stroke="#352e1c" stroke-width="0.7" stroke-linejoin="round"/>
<path d="M138.28,263.81L140.1,262.41L136.16,261.79L134.34,263.19ZM138.28,263.81L140.1,262.41L140.1,268.88L138.28,270.28Z" fill="#fda75d" stroke="#352e1c" stroke-width="0.7" stroke-linejoin="round"/>
<path d="M108.88,267.32L110.7,265.92L106.76,265.3L104.94,266.7Z" fill="#f6504a" stroke="#352e1c" stroke-width="0.7" stroke-linejoin="round"/>
<path d="M112.82,261.48L114.64,260.08L110.7,259.45L108.88,260.85Z" fill="#fcf3a8" stroke="#352e1c" stroke-width="0.7" stroke-linejoin="round"/>
<path d="M116.76,262.1L118.58,260.7L114.64,260.08L112.82,261.48Z" fill="#fdad60" stroke="#352e1c" stroke-width="0.7" stroke-linejoin="round"/>
<path d="M120.7,262.72L122.52,261.32L118.58,260.7L116.76,262.1Z" fill="#fcf4a9" stroke="#352e1c" stroke-width="0.7" stroke-linejoin="round"/>
<path d="M124.64,263.34L126.46,261.94L122.52,261.32L120.7,262.72Z" fill="#fed682" stroke="#352e1c" stroke-width="0.7" stroke-linejoin="round"/>
<path d="M128.58,263.97L130.4,262.57L126.46,261.94L124.64,263.34Z" fill="#fed682" stroke="#352e1c" stroke-width="0.7" stroke-linejoin="round"/>
<path d="M132.52,264.59L134.34,263.19L130.4,262.57L128.58,263.97Z" fill="#fcf3a8" stroke="#352e1c" stroke-width="0.7" stroke-linejoin="round"/>
<path d="M136.46,297.56L132.52,296.94L132.52,303.41L136.46,304.03ZM136.46,297.56L138.28,296.16L138.28,302.63L136.46,304.03Z" fill="#fda15a" stroke="#352e1c" stroke-width="0.7" stroke-linejoin="round"/>
<path d="M136.46,291.09L138.28,289.69L138.28,296.16L136.46,297.56Z" fill="#fcf3a8" stroke="#352e1c" stroke-width="0.7" stroke-linejoin="round"/>
<path d="M136.46,284.62L138.28,283.22L138.28,289.69L136.46,291.09Z" fill="#fbf5a9" stroke="#352e1c" stroke-width="0.7" stroke-linejoin="round"/>
<path d="M136.46,278.15L138.28,276.75L138.28,283.22L136.46,284.62Z" fill="#fda75d" stroke="#352e1c" stroke-width="0.7" stroke-linejoin="round"/>
<path d="M136.46,271.68L138.28,270.28L138.28,276.75L136.46,278.15Z" fill="#fda75d" stroke="#352e1c" stroke-width="0.7" stroke-linejoin="round"/>
<path d="M136.46,265.21L138.28,263.81L134.34,263.19L132.52,264.59ZM136.46,265.21L138.28,263.81L138.28,270.28L136.46,271.68Z" fill="#fda75d" stroke="#352e1c" stroke-width="0.7" stroke-linejoin="round"/>
<path d="M107.05,268.72L108.88,267.32L104.94,266.7L103.11,268.1Z" fill="#f6504a" stroke="#352e1c" stroke-width="0.7" stroke-linejoin="round"/>
<path d="M110.99,262.88L112.82,261.48L108.88,260.85L107.05,262.25Z" fill="#fef1a6" stroke="#352e1c" stroke-width="0.7" stroke-linejoin="round"/>
<path d="M114.93,263.5L116.76,262.1L112.82,261.48L110.99,262.88Z" fill="#fdad60" stroke="#352e1c" stroke-width="0.7" stroke-linejoin="round"/>
<path d="M118.87,264.12L120.7,262.72L116.76,262.1L114.93,263.5Z" fill="#fcf5a9" stroke="#352e1c" stroke-width="0.7" stroke-linejoin="round"/>
<path d="M122.81,264.75L124.64,263.34L120.7,262.72L118.87,264.12Z" fill="#fdf3a7" stroke="#352e1c" stroke-width="0.7" stroke-linejoin="round"/>
<path d="M126.75,265.37L128.58,263.97L124.64,263.34L122.81,264.75Z" fill="#fcf5a9" stroke="#352e1c" stroke-width="0.7" stroke-linejoin="round"/>
<path d="M130.69,298.34L132.52,296.94L132.52,303.41L130.69,304.81Z" fill="#fed682" stroke="#352e1c" stroke-width="0.7" stroke-linejoin="round"/>
<path d="M130.69,265.99L132.52,264.59L128.58,263.97L126.75,265.37Z" fill="#fef1a6" stroke="#352e1c" stroke-width="0.7" stroke-linejoin="round"/>
<path d="M134.63,292.49L136.46,291.09L136.46,297.56L134.63,298.96Z" fill="#fdf1a6" stroke="#352e1c" stroke-width="0.7" stroke-linejoin="round"/>
<path d="M134.63,286.02L136.46,284.62L136.46,291.09L134.63,292.49Z" fill="#fdf3a7" stroke="#352e1c" stroke-width="0.7" stroke-linejoin="round"/>
<path d="M134.63,279.55L136.46,278.15L136.46,284.62L134.63,286.02Z" fill="#fda75d" stroke="#352e1c" stroke-width="0.7" stroke-linejoin="round"/>
<path d="M134.63,273.08L136.46,271.68L136.46,278.15L134.63,279.55Z" fill="#fda75d" stroke="#352e1c" stroke-width="0.7" stroke-linejoin="round"/>
<path d="M134.63,266.61L136.46,265.21L132.52,264.59L130.69,265.99ZM134.63,266.61L136.46,265.21L136.46,271.68L134.63,273.08Z" fill="#fda75d" stroke="#352e1c" stroke-width="0.7" stroke-linejoin="round"/>
<path d="M105.23,270.12L107.05,268.72L103.11,268.1L101.29,269.5Z" fill="#f6504a" stroke="#352e1c" stroke-width="0.7" stroke-linejoin="round"/>
<path d="M109.17,264.28L110.99,262.88L107.05,262.25L105.23,263.65Z" fill="#fcf3a8" stroke="#352e1c" stroke-width="0.7" stroke-linejoin="round"/>
<path d="M113.11,264.9L114.93,263.5L110.99,262.88L109.17,264.28Z" fill="#fdad60" stroke="#352e1c" stroke-width="0.7" stroke-linejoin="round"/>
<path d="M117.05,297.87L113.11,297.25L113.11,303.72L117.05,304.34Z" fill="#fed682" stroke="#352e1c" stroke-width="0.7" stroke-linejoin="round"/>
<path d="M117.05,265.52L118.87,264.12L114.93,263.5L113.11,264.9Z" fill="#fdf1a6" stroke="#352e1c" stroke-width="0.7" stroke-linejoin="round"/>
<path d="M120.99,266.14L122.81,264.75L118.87,264.12L117.05,265.52ZM120.99,266.14L117.05,265.52L117.05,271.99L120.99,272.62Z" fill="#fcf3a8" stroke="#352e1c" stroke-width="0.7" stroke-linejoin="round"/>
<path d="M124.93,305.59L126.75,304.19L126.75,309.36L124.93,310.76Z" fill="#fbf6aa" stroke="#352e1c" stroke-width="0.7" stroke-linejoin="round"/>
<path d="M124.93,266.77L126.75,265.37L122.81,264.75L120.99,266.14ZM124.93,266.77L120.99,266.14L120.99,272.62L124.93,273.24Z" fill="#fbf6aa" stroke="#352e1c" stroke-width="0.7" stroke-linejoin="round"/>
<path d="M128.87,299.74L130.69,298.34L130.69,304.81L128.87,306.21Z" fill="#fed682" stroke="#352e1c" stroke-width="0.7" stroke-linejoin="round"/>
<path d="M128.87,267.39L130.69,265.99L126.75,265.37L124.93,266.77ZM128.87,267.39L124.93,266.77L124.93,273.24L128.87,273.86Z" fill="#fef1a6" stroke="#352e1c" stroke-width="0.7" stroke-linejoin="round"/>
<path d="M132.81,293.89L134.63,292.49L134.63,298.96L132.81,300.36Z" fill="#fcf4a8" stroke="#352e1c" stroke-width="0.7" stroke-linejoin="round"/>
<path d="M132.81,287.42L134.63,286.02L134.63,292.49L132.81,293.89Z" fill="#fef1a6" stroke="#352e1c" stroke-width="0.7" stroke-linejoin="round"/>
<path d="M132.81,280.95L134.63,279.55L134.63,286.02L132.81,287.42Z" fill="#fdf2a7" stroke="#352e1c" stroke-width="0.7" stroke-linejoin="round"/>
<path d="M132.81,274.48L134.63,273.08L134.63,279.55L132.81,280.95Z" fill="#fcf4a8" stroke="#352e1c" stroke-width="0.7" stroke-linejoin="round"/>
<path d="M132.81,268.01L134.63,266.61L130.69,265.99L128.87,267.39ZM132.81,268.01L134.63,266.61L134.63,273.08L132.81,274.48Z" fill="#fef1a6" stroke="#352e1c" stroke-width="0.7" stroke-linejoin="round"/>
<path d="M103.41,290.93L99.47,290.31L99.47,296.78L103.41,297.4Z" fill="#fee798" stroke="#352e1c" stroke-width="0.7" stroke-linejoin="round"/>
<path d="M103.41,284.46L99.47,283.84L99.47,290.31L103.41,290.93Z" fill="#fbf6aa" stroke="#352e1c" stroke-width="0.7" stroke-linejoin="round"/>
<path d="M103.41,277.99L99.47,277.37L99.47,283.84L103.41,284.46Z" fill="#fed682" stroke="#352e1c" stroke-width="0.7" stroke-linejoin="round"/>
<path d="M103.41,271.52L99.47,270.9L99.47,277.37L103.41,277.99Z" fill="#fecc79" stroke="#352e1c" stroke-width="0.7" stroke-linejoin="round"/>
<path d="M103.41,265.05L105.23,263.65L101.29,263.03L99.47,264.43ZM103.41,265.05L99.47,264.43L99.47,270.9L103.41,271.52Z" fill="#fecc79" stroke="#352e1c" stroke-width="0.7" stroke-linejoin="round"/>
<path d="M107.35,291.56L103.41,290.93L103.41,297.4L107.35,298.03Z" fill="#fed682" stroke="#352e1c" stroke-width="0.7" stroke-linejoin="round"/>
<path d="M107.35,285.09L103.41,284.46L103.41,290.93L107.35,291.56Z" fill="#fcf4a8" stroke="#352e1c" stroke-width="0.7" stroke-linejoin="round"/>
<path d="M107.35,278.62L103.41,277.99L103.41,284.46L107.35,285.09Z" fill="#fdb463" stroke="#352e1c" stroke-width="0.7" stroke-linejoin="round"/>
<path d="M107.35,272.15L103.41,271.52L103.41,277.99L107.35,278.62Z" fill="#fdad60" stroke="#352e1c" stroke-width="0.7" stroke-linejoin="round"/>
<path d="M107.35,265.68L109.17,264.28L105.23,263.65L103.41,265.05ZM107.35,265.68L103.41,265.05L103.41,271.52L107.35,272.15Z" fill="#fed17d" stroke="#352e1c" stroke-width="0.7" stroke-linejoin="round"/>
<path d="M111.29,292.18L107.35,291.56L107.35,298.03L111.29,298.65Z" fill="#fbf6aa" stroke="#352e1c" stroke-width="0.7" stroke-linejoin="round"/>
<path d="M111.29,285.71L107.35,285.09L107.35,291.56L111.29,292.18Z" fill="#fecc79" stroke="#352e1c" stroke-width="0.7" stroke-linejoin="round"/>
<path d="M111.29,279.24L107.35,278.62L107.35,285.09L111.29,285.71Z" fill="#fda75d" stroke="#352e1c" stroke-width="0.7" stroke-linejoin="round"/>
<path d="M111.29,272.77L107.35,272.15L107.35,278.62L111.29,279.24Z" fill="#fdad60" stroke="#352e1c" stroke-width="0.7" stroke-linejoin="round"/>
<path d="M111.29,266.3L113.11,264.9L109.17,264.28L107.35,265.68ZM111.29,266.3L107.35,265.68L107.35,272.15L111.29,272.77Z" fill="#fbf6aa" stroke="#352e1c" stroke-width="0.7" stroke-linejoin="round"/>
<path d="M115.23,292.8L111.29,292.18L111.29,298.65L115.23,299.27Z" fill="#fef1a5" stroke="#352e1c" stroke-width="0.7" stroke-linejoin="round"/>
<path d="M115.23,286.33L111.29,285.71L111.29,292.18L115.23,292.8Z" fill="#fdb463" stroke="#352e1c" stroke-width="0.7" stroke-linejoin="round"/>
<path d="M115.23,279.86L111.29,279.24L111.29,285.71L115.23,286.33Z" fill="#fecc79" stroke="#352e1c" stroke-width="0.7" stroke-linejoin="round"/>
<path d="M115.23,273.39L111.29,272.77L111.29,279.24L115.23,279.86Z" fill="#fbf6aa" stroke="#352e1c" stroke-width="0.7" stroke-linejoin="round"/>
<path d="M115.23,266.92L117.05,265.52L113.11,264.9L111.29,266.3ZM115.23,266.92L111.29,266.3L111.29,272.77L115.23,273.39ZM115.23,266.92L117.05,265.52L117.05,271.99L115.23,273.39Z" fill="#fcf4a8" stroke="#352e1c" stroke-width="0.7" stroke-linejoin="round"/>
<path d="M119.17,306.37L115.23,305.74L115.23,310.92L119.17,311.54Z" fill="#fbf6aa" stroke="#352e1c" stroke-width="0.7" stroke-linejoin="round"/>
<path d="M119.17,299.9L115.23,299.27L115.23,305.74L119.17,306.37Z" fill="#fda15a" stroke="#352e1c" stroke-width="0.7" stroke-linejoin="round"/>
<path d="M119.17,293.43L115.23,292.8L115.23,299.27L119.17,299.9Z" fill="#fdad60" stroke="#352e1c" stroke-width="0.7" stroke-linejoin="round"/>
<path d="M119.17,286.96L115.23,286.33L115.23,292.8L119.17,293.43Z" fill="#fdad60" stroke="#352e1c" stroke-width="0.7" stroke-linejoin="round"/>
<path d="M119.17,280.49L115.23,279.86L115.23,286.33L119.17,286.96Z" fill="#fbf6aa" stroke="#352e1c" stroke-width="0.7" stroke-linejoin="round"/>
<path d="M119.17,274.02L120.99,272.62L117.05,271.99L115.23,273.39ZM119.17,274.02L115.23,273.39L115.23,279.86L119.17,280.49Z" fill="#fcf4a8" stroke="#352e1c" stroke-width="0.7" stroke-linejoin="round"/>
<path d="M123.11,306.99L119.17,306.37L119.17,311.54L123.11,312.16ZM123.11,306.99L124.93,305.59L124.93,310.76L123.11,312.16Z" fill="#fcf4a8" stroke="#352e1c" stroke-width="0.7" stroke-linejoin="round"/>
<path d="M123.11,300.52L119.17,299.9L119.17,306.37L123.11,306.99Z" fill="#fda75d" stroke="#352e1c" stroke-width="0.7" stroke-linejoin="round"/>
<path d="M123.11,294.05L119.17,293.43L119.17,299.9L123.11,300.52Z" fill="#fef1a5" stroke="#352e1c" stroke-width="0.7" stroke-linejoin="round"/>
<path d="M123.11,287.58L119.17,286.96L119.17,293.43L123.11,294.05Z" fill="#fecc79" stroke="#352e1c" stroke-width="0.7" stroke-linejoin="round"/>
<path d="M123.11,281.11L119.17,280.49L119.17,286.96L123.11,287.58Z" fill="#fdad60" stroke="#352e1c" stroke-width="0.7" stroke-linejoin="round"/>
<path d="M123.11,274.64L124.93,273.24L120.99,272.62L119.17,274.02ZM123.11,274.64L119.17,274.02L119.17,280.49L123.11,281.11Z" fill="#fdb463" stroke="#352e1c" stroke-width="0.7" stroke-linejoin="round"/>
<path d="M127.05,301.14L123.11,300.52L123.11,306.99L127.05,307.61ZM127.05,301.14L128.87,299.74L128.87,306.21L127.05,307.61Z" fill="#fef1a5" stroke="#352e1c" stroke-width="0.7" stroke-linejoin="round"/>
<path d="M127.05,294.67L123.11,294.05L123.11,300.52L127.05,301.14Z" fill="#fdb463" stroke="#352e1c" stroke-width="0.7" stroke-linejoin="round"/>
<path d="M127.05,288.2L123.11,287.58L123.11,294.05L127.05,294.67Z" fill="#fdb463" stroke="#352e1c" stroke-width="0.7" stroke-linejoin="round"/>
<path d="M127.05,281.73L123.11,281.11L123.11,287.58L127.05,288.2Z" fill="#fdb463" stroke="#352e1c" stroke-width="0.7" stroke-linejoin="round"/>
<path d="M127.05,275.26L128.87,273.86L124.93,273.24L123.11,274.64ZM127.05,275.26L123.11,274.64L123.11,281.11L127.05,281.73Z" fill="#fbf6aa" stroke="#352e1c" stroke-width="0.7" stroke-linejoin="round"/>
<path d="M130.99,295.29L127.05,294.67L127.05,301.14L130.99,301.76ZM130.99,295.29L132.81,293.89L132.81,300.36L130.99,301.76Z" fill="#fbf6aa" stroke="#352e1c" stroke-width="0.7" stroke-linejoin="round"/>
<path d="M130.99,288.82L127.05,288.2L127.05,294.67L130.99,295.29ZM130.99,288.82L132.81,287.42L132.81,293.89L130.99,295.29Z" fill="#fbf6aa" stroke="#352e1c" stroke-width="0.7" stroke-linejoin="round"/>
<path d="M130.99,282.35L127.05,281.73L127.05,288.2L130.99,288.82ZM130.99,282.35L132.81,280.95L132.81,287.42L130.99,288.82Z" fill="#fbf6aa" stroke="#352e1c" stroke-width="0.7" stroke-linejoin="round"/>
<path d="M130.99,275.88L127.05,275.26L127.05,281.73L130.99,282.35ZM130.99,275.88L132.81,274.48L132.81,280.95L130.99,282.35Z" fill="#fcf4a8" stroke="#352e1c" stroke-width="0.7" stroke-linejoin="round"/>
<path d="M130.99,269.41L132.81,268.01L128.87,267.39L127.05,268.79ZM130.99,269.41L127.05,268.79L127.05,275.26L130.99,275.88ZM130.99,269.41L132.81,268.01L132.81,274.48L130.99,275.88Z" fill="#fef1a5" stroke="#352e1c" stroke-width="0.7" stroke-linejoin="round"/>
<path d="M98.01,265.55L98.01,303.4L129.53,308.38L140.47,299.98L140.47,262.13M129.53,308.38L129.53,270.53M98.01,265.55L129.53,270.53L140.47,262.13M98.01,265.55L108.95,257.15L140.47,262.13" stroke="#0a0a0a" stroke-width="2.7" fill="none" stroke-linejoin="round" stroke-linecap="round"/>
<path d="M499.61,249.6L499.61,353.12L443.1,396.52M320.96,273.69L320.96,377.21L443.1,396.52M480.53,246.58L480.53,350.1L424.02,393.5M329.96,266.78L329.96,370.3L452.1,389.61M461.44,243.56L461.44,347.08L404.93,390.48M338.96,259.87L338.96,363.39L461.1,382.7M442.36,240.55L442.36,344.07L385.85,387.47M347.96,252.95L347.96,356.47L470.1,375.79M423.28,237.53L423.28,341.05L366.76,384.45M356.96,246.04L356.96,349.56L479.1,368.88M404.19,234.51L404.19,338.03L347.68,381.43M365.95,239.13L365.95,342.65L488.09,361.97M385.11,231.49L385.11,335.01L328.59,378.41M374.95,232.22L374.95,335.74L497.09,355.06M320.96,273.69L377.47,230.29L499.61,249.6M320.96,306.04L377.47,262.64L499.61,281.95M320.96,338.39L377.47,294.99L499.61,314.3M320.96,370.74L377.47,327.34L499.61,346.65" stroke="#dedede" stroke-width="0.6" fill="none"/>
<path d="M320.96,273.69L377.47,230.29L499.61,249.6L499.61,353.12M377.47,230.29L377.47,333.81L320.96,377.21M377.47,333.81L499.61,353.12" stroke="#333" stroke-width="0.6" fill="none"/>
<text x="438.4" y="410.1" font-size="9.5" text-anchor="end" font-weight="bold">0</text>
<text x="450" y="408.4" font-size="9.5" text-anchor="start" font-weight="bold">0</text>
<text x="419.3" y="407.1" font-size="9.5" text-anchor="end" font-weight="bold">5</text>
<text x="459" y="401.5" font-size="9.5" text-anchor="start" font-weight="bold">5</text>
<text x="400.2" y="404.1" font-size="9.5" text-anchor="end" font-weight="bold">10</text>
<text x="468" y="394.6" font-size="9.5" text-anchor="start" font-weight="bold">10</text>
<text x="381.1" y="401.1" font-size="9.5" text-anchor="end" font-weight="bold">15</text>
<text x="477" y="387.7" font-size="9.5" text-anchor="start" font-weight="bold">15</text>
<text x="362.1" y="398" font-size="9.5" text-anchor="end" font-weight="bold">20</text>
<text x="486" y="380.8" font-size="9.5" text-anchor="start" font-weight="bold">20</text>
<text x="343" y="395" font-size="9.5" text-anchor="end" font-weight="bold">25</text>
<text x="495" y="373.9" font-size="9.5" text-anchor="start" font-weight="bold">25</text>
<text x="323.9" y="392" font-size="9.5" text-anchor="end" font-weight="bold">30</text>
<text x="504" y="367" font-size="9.5" text-anchor="start" font-weight="bold">30</text>
<text x="315.3" y="276.5" font-size="9.5" text-anchor="end" font-weight="bold">0</text>
<text x="315.3" y="308.8" font-size="9.5" text-anchor="end" font-weight="bold">5</text>
<text x="315.3" y="341.2" font-size="9.5" text-anchor="end" font-weight="bold">10</text>
<text x="315.3" y="373.5" font-size="9.5" text-anchor="end" font-weight="bold">15</text>
<path d="M320.96,273.69L320.96,377.21L443.1,396.52L499.61,353.12M443.1,396.52l-1.2,1.1M443.1,396.52l2,0.4M424.02,393.5l-1.2,1.1M452.1,389.61l2,0.4M404.93,390.48l-1.2,1.1M461.1,382.7l2,0.4M385.85,387.47l-1.2,1.1M470.1,375.79l2,0.4M366.76,384.45l-1.2,1.1M479.1,368.88l2,0.4M347.68,381.43l-1.2,1.1M488.09,361.97l2,0.4M328.59,378.41l-1.2,1.1M497.09,355.06l2,0.4M320.96,273.69l-2,-0.3M320.96,306.04l-2,-0.3M320.96,338.39l-2,-0.3M320.96,370.74l-2,-0.3" stroke="#222" stroke-width="0.7" fill="none"/>
<text x="373.1" y="416.3" font-size="9.8" text-anchor="middle" font-weight="bold">Y/(km)</text>
<text x="497.6" y="410.3" font-size="9.8" text-anchor="middle" font-weight="bold">X/(km)</text>
<text transform="translate(300.2,325.4) rotate(-90)" font-size="9.8" text-anchor="middle" font-weight="bold">Depth/(km)</text>
<rect x="518.8" y="229.4" width="9.6" height="167.1" fill="url(#cb)" stroke="#333" stroke-width="0.4"/>
<text x="532.4" y="233.7" font-size="9.5" text-anchor="start" font-weight="bold">1</text>
<text x="532.4" y="266.9" font-size="9.5" text-anchor="start" font-weight="bold">0.8</text>
<text x="532.4" y="300.1" font-size="9.5" text-anchor="start" font-weight="bold">0.6</text>
<text x="532.4" y="333.3" font-size="9.5" text-anchor="start" font-weight="bold">0.4</text>
<text x="532.4" y="366.5" font-size="9.5" text-anchor="start" font-weight="bold">0.2</text>
<text x="532.4" y="399.7" font-size="9.5" text-anchor="start" font-weight="bold">0</text>
<path d="M528.4,263.7h-1.6M528.4,296.9h-1.6M528.4,330.1h-1.6M528.4,363.3h-1.6" stroke="#222" stroke-width="0.5" fill="none"/>
<text x="511.9" y="224.2" font-size="9.7" text-anchor="start" font-weight="bold">g/cm<tspan dy="-3.6" font-size="7.5">3</tspan></text>
<text x="283.4" y="236.3" font-size="19.5" text-anchor="start" font-weight="normal" class="pl">(d)</text>
<path d="M383.25,257.45L383.25,295.3M372.31,303.7L383.25,295.3L414.77,300.28M372.31,265.85L383.25,257.45L414.77,262.43" stroke="#0a0a0a" stroke-width="2.7" fill="none" stroke-linejoin="round" stroke-linecap="round"/>
<path d="M385,259.75L386.82,258.35L382.88,257.73L381.06,259.13Z" fill="#fb6f4b" stroke="#352e1c" stroke-width="0.7" stroke-linejoin="round"/>
<path d="M388.94,260.38L390.76,258.98L386.82,258.35L385,259.75Z" fill="#fb6a4b" stroke="#352e1c" stroke-width="0.7" stroke-linejoin="round"/>
<path d="M392.88,261L394.7,259.6L390.76,258.98L388.94,260.38Z" fill="#fb704c" stroke="#352e1c" stroke-width="0.7" stroke-linejoin="round"/>
<path d="M396.82,261.62L398.64,260.22L394.7,259.6L392.88,261Z" fill="#fb644a" stroke="#352e1c" stroke-width="0.7" stroke-linejoin="round"/>
<path d="M400.76,262.25L402.58,260.85L398.64,260.22L396.82,261.62Z" fill="#fc744c" stroke="#352e1c" stroke-width="0.7" stroke-linejoin="round"/>
<path d="M404.7,262.87L406.52,261.47L402.58,260.85L400.76,262.25Z" fill="#fb684a" stroke="#352e1c" stroke-width="0.7" stroke-linejoin="round"/>
<path d="M408.64,263.49L410.46,262.09L406.52,261.47L404.7,262.87Z" fill="#fb634a" stroke="#352e1c" stroke-width="0.7" stroke-linejoin="round"/>
<path d="M412.58,296.46L414.4,295.06L414.4,301.53L412.58,302.93Z" fill="#feea9d" stroke="#352e1c" stroke-width="0.7" stroke-linejoin="round"/>
<path d="M412.58,289.99L414.4,288.59L414.4,295.06L412.58,296.46Z" fill="#fd8f51" stroke="#352e1c" stroke-width="0.7" stroke-linejoin="round"/>
<path d="M412.58,283.52L414.4,282.12L414.4,288.59L412.58,289.99Z" fill="#fa5a48" stroke="#352e1c" stroke-width="0.7" stroke-linejoin="round"/>
<path d="M412.58,277.05L414.4,275.65L414.4,282.12L412.58,283.52Z" fill="#f2464d" stroke="#352e1c" stroke-width="0.7" stroke-linejoin="round"/>
<path d="M412.58,270.58L414.4,269.18L414.4,275.65L412.58,277.05Z" fill="#fa5748" stroke="#352e1c" stroke-width="0.7" stroke-linejoin="round"/>
<path d="M412.58,264.11L414.4,262.71L410.46,262.09L408.64,263.49ZM412.58,264.11L414.4,262.71L414.4,269.18L412.58,270.58Z" fill="#fd9052" stroke="#352e1c" stroke-width="0.7" stroke-linejoin="round"/>
<path d="M383.18,261.15L385,259.75L381.06,259.13L379.24,260.53Z" fill="#fb674a" stroke="#352e1c" stroke-width="0.7" stroke-linejoin="round"/>
<path d="M387.12,261.78L388.94,260.38L385,259.75L383.18,261.15Z" fill="#fb694b" stroke="#352e1c" stroke-width="0.7" stroke-linejoin="round"/>
<path d="M391.06,262.4L392.88,261L388.94,260.38L387.12,261.78Z" fill="#fb6e4b" stroke="#352e1c" stroke-width="0.7" stroke-linejoin="round"/>
<path d="M395,263.02L396.82,261.62L392.88,261L391.06,262.4Z" fill="#fb724c" stroke="#352e1c" stroke-width="0.7" stroke-linejoin="round"/>
<path d="M398.94,263.64L400.76,262.25L396.82,261.62L395,263.02Z" fill="#fb6d4b" stroke="#352e1c" stroke-width="0.7" stroke-linejoin="round"/>
<path d="M402.88,264.27L404.7,262.87L400.76,262.25L398.94,263.64Z" fill="#fb674a" stroke="#352e1c" stroke-width="0.7" stroke-linejoin="round"/>
<path d="M406.82,264.89L408.64,263.49L404.7,262.87L402.88,264.27Z" fill="#fb6c4b" stroke="#352e1c" stroke-width="0.7" stroke-linejoin="round"/>
<path d="M410.76,297.86L412.58,296.46L412.58,302.93L410.76,304.33Z" fill="#feea9d" stroke="#352e1c" stroke-width="0.7" stroke-linejoin="round"/>
<path d="M410.76,291.39L412.58,289.99L412.58,296.46L410.76,297.86Z" fill="#fd8f51" stroke="#352e1c" stroke-width="0.7" stroke-linejoin="round"/>
<path d="M410.76,284.92L412.58,283.52L412.58,289.99L410.76,291.39Z" fill="#f85449" stroke="#352e1c" stroke-width="0.7" stroke-linejoin="round"/>
<path d="M410.76,278.45L412.58,277.05L412.58,283.52L410.76,284.92Z" fill="#f1444d" stroke="#352e1c" stroke-width="0.7" stroke-linejoin="round"/>
<path d="M410.76,271.98L412.58,270.58L412.58,277.05L410.76,278.45Z" fill="#f64f4a" stroke="#352e1c" stroke-width="0.7" stroke-linejoin="round"/>
<path d="M410.76,265.51L412.58,264.11L408.64,263.49L406.82,264.89ZM410.76,265.51L412.58,264.11L412.58,270.58L410.76,271.98Z" fill="#fd9c58" stroke="#352e1c" stroke-width="0.7" stroke-linejoin="round"/>
<path d="M381.35,262.55L383.18,261.15L379.24,260.53L377.41,261.93Z" fill="#fc754d" stroke="#352e1c" stroke-width="0.7" stroke-linejoin="round"/>
<path d="M385.29,263.18L387.12,261.78L383.18,261.15L381.35,262.55Z" fill="#fb714c" stroke="#352e1c" stroke-width="0.7" stroke-linejoin="round"/>
<path d="M389.23,263.8L391.06,262.4L387.12,261.78L385.29,263.18Z" fill="#fa6049" stroke="#352e1c" stroke-width="0.7" stroke-linejoin="round"/>
<path d="M393.17,264.42L395,263.02L391.06,262.4L389.23,263.8Z" fill="#fb634a" stroke="#352e1c" stroke-width="0.7" stroke-linejoin="round"/>
<path d="M397.11,265.05L398.94,263.64L395,263.02L393.17,264.42Z" fill="#fa6049" stroke="#352e1c" stroke-width="0.7" stroke-linejoin="round"/>
<path d="M401.05,265.67L402.88,264.27L398.94,263.64L397.11,265.05Z" fill="#fb704c" stroke="#352e1c" stroke-width="0.7" stroke-linejoin="round"/>
<path d="M404.99,266.29L406.82,264.89L402.88,264.27L401.05,265.67Z" fill="#fb6a4b" stroke="#352e1c" stroke-width="0.7" stroke-linejoin="round"/>
<path d="M408.93,299.26L410.76,297.86L410.76,304.33L408.93,305.73Z" fill="#feeea3" stroke="#352e1c" stroke-width="0.7" stroke-linejoin="round"/>
<path d="M408.93,292.79L410.76,291.39L410.76,297.86L408.93,299.26Z" fill="#fd9052" stroke="#352e1c" stroke-width="0.7" stroke-linejoin="round"/>
<path d="M408.93,286.32L410.76,284.92L410.76,291.39L408.93,292.79Z" fill="#fb6149" stroke="#352e1c" stroke-width="0.7" stroke-linejoin="round"/>
<path d="M408.93,279.85L410.76,278.45L410.76,284.92L408.93,286.32Z" fill="#f0414e" stroke="#352e1c" stroke-width="0.7" stroke-linejoin="round"/>
<path d="M408.93,273.38L410.76,271.98L410.76,278.45L408.93,279.85Z" fill="#f64e4a" stroke="#352e1c" stroke-width="0.7" stroke-linejoin="round"/>
<path d="M408.93,266.91L410.76,265.51L406.82,264.89L404.99,266.29ZM408.93,266.91L410.76,265.51L410.76,271.98L408.93,273.38Z" fill="#fd9d58" stroke="#352e1c" stroke-width="0.7" stroke-linejoin="round"/>
<path d="M379.53,263.95L381.35,262.55L377.41,261.93L375.59,263.33Z" fill="#fc764d" stroke="#352e1c" stroke-width="0.7" stroke-linejoin="round"/>
<path d="M383.47,264.58L385.29,263.18L381.35,262.55L379.53,263.95Z" fill="#fb724c" stroke="#352e1c" stroke-width="0.7" stroke-linejoin="round"/>
<path d="M387.41,265.2L389.23,263.8L385.29,263.18L383.47,264.58Z" fill="#fb664a" stroke="#352e1c" stroke-width="0.7" stroke-linejoin="round"/>
<path d="M391.35,265.82L393.17,264.42L389.23,263.8L387.41,265.2Z" fill="#fc734c" stroke="#352e1c" stroke-width="0.7" stroke-linejoin="round"/>
<path d="M395.29,266.44L397.11,265.05L393.17,264.42L391.35,265.82Z" fill="#fc754d" stroke="#352e1c" stroke-width="0.7" stroke-linejoin="round"/>
<path d="M399.23,267.07L401.05,265.67L397.11,265.05L395.29,266.44Z" fill="#fb654a" stroke="#352e1c" stroke-width="0.7" stroke-linejoin="round"/>
<path d="M403.17,267.69L404.99,266.29L401.05,265.67L399.23,267.07Z" fill="#fb6f4c" stroke="#352e1c" stroke-width="0.7" stroke-linejoin="round"/>
<path d="M407.11,300.66L408.93,299.26L408.93,305.73L407.11,307.13Z" fill="#fef1a6" stroke="#352e1c" stroke-width="0.7" stroke-linejoin="round"/>
<path d="M407.11,294.19L408.93,292.79L408.93,299.26L407.11,300.66Z" fill="#fd9454" stroke="#352e1c" stroke-width="0.7" stroke-linejoin="round"/>
<path d="M407.11,287.72L408.93,286.32L408.93,292.79L407.11,294.19Z" fill="#fa5a48" stroke="#352e1c" stroke-width="0.7" stroke-linejoin="round"/>
<path d="M407.11,281.25L408.93,279.85L408.93,286.32L407.11,287.72Z" fill="#f2464c" stroke="#352e1c" stroke-width="0.7" stroke-linejoin="round"/>
<path d="M407.11,274.78L408.93,273.38L408.93,279.85L407.11,281.25Z" fill="#f85449" stroke="#352e1c" stroke-width="0.7" stroke-linejoin="round"/>
<path d="M407.11,268.31L408.93,266.91L404.99,266.29L403.17,267.69ZM407.11,268.31L408.93,266.91L408.93,273.38L407.11,274.78Z" fill="#fd9856" stroke="#352e1c" stroke-width="0.7" stroke-linejoin="round"/>
<path d="M377.71,265.35L379.53,263.95L375.59,263.33L373.77,264.73Z" fill="#fb704c" stroke="#352e1c" stroke-width="0.7" stroke-linejoin="round"/>
<path d="M381.65,265.98L383.47,264.58L379.53,263.95L377.71,265.35Z" fill="#fb694b" stroke="#352e1c" stroke-width="0.7" stroke-linejoin="round"/>
<path d="M385.59,266.6L387.41,265.2L383.47,264.58L381.65,265.98Z" fill="#fb654a" stroke="#352e1c" stroke-width="0.7" stroke-linejoin="round"/>
<path d="M389.53,267.22L391.35,265.82L387.41,265.2L385.59,266.6Z" fill="#fb644a" stroke="#352e1c" stroke-width="0.7" stroke-linejoin="round"/>
<path d="M393.47,267.85L395.29,266.44L391.35,265.82L389.53,267.22Z" fill="#fb664a" stroke="#352e1c" stroke-width="0.7" stroke-linejoin="round"/>
<path d="M397.41,307.29L399.23,305.89L399.23,309.77L397.41,311.17Z" fill="#fbf6aa" stroke="#352e1c" stroke-width="0.7" stroke-linejoin="round"/>
<path d="M397.41,268.47L399.23,267.07L395.29,266.44L393.47,267.85Z" fill="#fb644a" stroke="#352e1c" stroke-width="0.7" stroke-linejoin="round"/>
<path d="M401.35,269.09L403.17,267.69L399.23,267.07L397.41,268.47Z" fill="#fc734c" stroke="#352e1c" stroke-width="0.7" stroke-linejoin="round"/>
<path d="M405.29,302.06L407.11,300.66L407.11,307.13L405.29,308.53Z" fill="#fef1a6" stroke="#352e1c" stroke-width="0.7" stroke-linejoin="round"/>
<path d="M405.29,295.59L407.11,294.19L407.11,300.66L405.29,302.06Z" fill="#fd9c58" stroke="#352e1c" stroke-width="0.7" stroke-linejoin="round"/>
<path d="M405.29,289.12L407.11,287.72L407.11,294.19L405.29,295.59Z" fill="#f85349" stroke="#352e1c" stroke-width="0.7" stroke-linejoin="round"/>
<path d="M405.29,282.65L407.11,281.25L407.11,287.72L405.29,289.12Z" fill="#f0424d" stroke="#352e1c" stroke-width="0.7" stroke-linejoin="round"/>
<path d="M405.29,276.18L407.11,274.78L407.11,281.25L405.29,282.65Z" fill="#f95549" stroke="#352e1c" stroke-width="0.7" stroke-linejoin="round"/>
<path d="M405.29,269.71L407.11,268.31L403.17,267.69L401.35,269.09ZM405.29,269.71L407.11,268.31L407.11,274.78L405.29,276.18Z" fill="#fd8d50" stroke="#352e1c" stroke-width="0.7" stroke-linejoin="round"/>
<path d="M375.89,292.63L371.95,292.01L371.95,298.48L375.89,299.1Z" fill="#fed682" stroke="#352e1c" stroke-width="0.7" stroke-linejoin="round"/>
<path d="M375.89,286.16L371.95,285.54L371.95,292.01L375.89,292.63Z" fill="#fa6049" stroke="#352e1c" stroke-width="0.7" stroke-linejoin="round"/>
<path d="M375.89,279.69L371.95,279.07L371.95,285.54L375.89,286.16Z" fill="#ec3850" stroke="#352e1c" stroke-width="0.7" stroke-linejoin="round"/>
<path d="M375.89,273.22L371.95,272.6L371.95,279.07L375.89,279.69Z" fill="#ed3c4f" stroke="#352e1c" stroke-width="0.7" stroke-linejoin="round"/>
<path d="M375.89,266.75L377.71,265.35L373.77,264.73L371.95,266.13ZM375.89,266.75L371.95,266.13L371.95,272.6L375.89,273.22Z" fill="#fef1a5" stroke="#352e1c" stroke-width="0.7" stroke-linejoin="round"/>
<path d="M379.83,293.26L375.89,292.63L375.89,299.1L379.83,299.73Z" fill="#fdb967" stroke="#352e1c" stroke-width="0.7" stroke-linejoin="round"/>
<path d="M379.83,286.79L375.89,286.16L375.89,292.63L379.83,293.26Z" fill="#fa5848" stroke="#352e1c" stroke-width="0.7" stroke-linejoin="round"/>
<path d="M379.83,280.32L375.89,279.69L375.89,286.16L379.83,286.79Z" fill="#ed3c4f" stroke="#352e1c" stroke-width="0.7" stroke-linejoin="round"/>
<path d="M379.83,273.85L375.89,273.22L375.89,279.69L379.83,280.32Z" fill="#ed3c4f" stroke="#352e1c" stroke-width="0.7" stroke-linejoin="round"/>
<path d="M379.83,267.38L381.65,265.98L377.71,265.35L375.89,266.75ZM379.83,267.38L375.89,266.75L375.89,273.22L379.83,273.85Z" fill="#fee191" stroke="#352e1c" stroke-width="0.7" stroke-linejoin="round"/>
<path d="M383.77,300.35L379.83,299.73L379.83,306.2L383.77,306.82Z" fill="#fee798" stroke="#352e1c" stroke-width="0.7" stroke-linejoin="round"/>
<path d="M383.77,293.88L379.83,293.26L379.83,299.73L383.77,300.35Z" fill="#fd9b57" stroke="#352e1c" stroke-width="0.7" stroke-linejoin="round"/>
<path d="M383.77,287.41L379.83,286.79L379.83,293.26L383.77,293.88Z" fill="#f6504a" stroke="#352e1c" stroke-width="0.7" stroke-linejoin="round"/>
<path d="M383.77,280.94L379.83,280.32L379.83,286.79L383.77,287.41Z" fill="#ef404e" stroke="#352e1c" stroke-width="0.7" stroke-linejoin="round"/>
<path d="M383.77,274.47L379.83,273.85L379.83,280.32L383.77,280.94Z" fill="#ef404e" stroke="#352e1c" stroke-width="0.7" stroke-linejoin="round"/>
<path d="M383.77,268L385.59,266.6L381.65,265.98L379.83,267.38ZM383.77,268L379.83,267.38L379.83,273.85L383.77,274.47Z" fill="#fec874" stroke="#352e1c" stroke-width="0.7" stroke-linejoin="round"/>
<path d="M387.71,307.44L383.77,306.82L383.77,310.7L387.71,311.32Z" fill="#fcf4a8" stroke="#352e1c" stroke-width="0.7" stroke-linejoin="round"/>
<path d="M387.71,300.97L383.77,300.35L383.77,306.82L387.71,307.44Z" fill="#fed682" stroke="#352e1c" stroke-width="0.7" stroke-linejoin="round"/>
<path d="M387.71,294.5L383.77,293.88L383.77,300.35L387.71,300.97Z" fill="#fd874f" stroke="#352e1c" stroke-width="0.7" stroke-linejoin="round"/>
<path d="M387.71,288.03L383.77,287.41L383.77,293.88L387.71,294.5Z" fill="#f6504a" stroke="#352e1c" stroke-width="0.7" stroke-linejoin="round"/>
<path d="M387.71,281.56L383.77,280.94L383.77,287.41L387.71,288.03Z" fill="#ef404e" stroke="#352e1c" stroke-width="0.7" stroke-linejoin="round"/>
<path d="M387.71,275.09L383.77,274.47L383.77,280.94L387.71,281.56Z" fill="#f1444d" stroke="#352e1c" stroke-width="0.7" stroke-linejoin="round"/>
<path d="M387.71,268.62L389.53,267.22L385.59,266.6L383.77,268ZM387.71,268.62L383.77,268L383.77,274.47L387.71,275.09Z" fill="#fecc79" stroke="#352e1c" stroke-width="0.7" stroke-linejoin="round"/>
<path d="M391.65,308.06L387.71,307.44L387.71,311.32L391.65,311.95Z" fill="#fbf6aa" stroke="#352e1c" stroke-width="0.7" stroke-linejoin="round"/>
<path d="M391.65,301.6L387.71,300.97L387.71,307.44L391.65,308.06Z" fill="#fdb967" stroke="#352e1c" stroke-width="0.7" stroke-linejoin="round"/>
<path d="M391.65,295.12L387.71,294.5L387.71,300.97L391.65,301.6Z" fill="#fb704c" stroke="#352e1c" stroke-width="0.7" stroke-linejoin="round"/>
<path d="M391.65,288.66L387.71,288.03L387.71,294.5L391.65,295.12Z" fill="#f6504a" stroke="#352e1c" stroke-width="0.7" stroke-linejoin="round"/>
<path d="M391.65,282.19L387.71,281.56L387.71,288.03L391.65,288.66Z" fill="#f1444d" stroke="#352e1c" stroke-width="0.7" stroke-linejoin="round"/>
<path d="M391.65,275.72L387.71,275.09L387.71,281.56L391.65,282.19Z" fill="#f3484c" stroke="#352e1c" stroke-width="0.7" stroke-linejoin="round"/>
<path d="M391.65,269.25L393.47,267.85L389.53,267.22L387.71,268.62ZM391.65,269.25L387.71,268.62L387.71,275.09L391.65,275.72Z" fill="#fdad60" stroke="#352e1c" stroke-width="0.7" stroke-linejoin="round"/>
<path d="M395.59,308.69L391.65,308.06L391.65,311.95L395.59,312.57ZM395.59,308.69L397.41,307.29L397.41,311.17L395.59,312.57Z" fill="#fcf4a8" stroke="#352e1c" stroke-width="0.7" stroke-linejoin="round"/>
<path d="M395.59,302.22L391.65,301.6L391.65,308.06L395.59,308.69Z" fill="#fdb463" stroke="#352e1c" stroke-width="0.7" stroke-linejoin="round"/>
<path d="M395.59,295.75L391.65,295.12L391.65,301.6L395.59,302.22Z" fill="#fb704c" stroke="#352e1c" stroke-width="0.7" stroke-linejoin="round"/>
<path d="M395.59,289.28L391.65,288.66L391.65,295.12L395.59,295.75Z" fill="#f6504a" stroke="#352e1c" stroke-width="0.7" stroke-linejoin="round"/>
<path d="M395.59,282.81L391.65,282.19L391.65,288.66L395.59,289.28Z" fill="#f3484c" stroke="#352e1c" stroke-width="0.7" stroke-linejoin="round"/>
<path d="M395.59,276.34L391.65,275.72L391.65,282.19L395.59,282.81Z" fill="#f3484c" stroke="#352e1c" stroke-width="0.7" stroke-linejoin="round"/>
<path d="M395.59,269.87L397.41,268.47L393.47,267.85L391.65,269.25ZM395.59,269.87L391.65,269.25L391.65,275.72L395.59,276.34Z" fill="#fda15a" stroke="#352e1c" stroke-width="0.7" stroke-linejoin="round"/>
<path d="M399.53,302.84L395.59,302.22L395.59,308.69L399.53,309.31Z" fill="#fed17d" stroke="#352e1c" stroke-width="0.7" stroke-linejoin="round"/>
<path d="M399.53,296.37L395.59,295.75L395.59,302.22L399.53,302.84Z" fill="#fc7f4e" stroke="#352e1c" stroke-width="0.7" stroke-linejoin="round"/>
<path d="M399.53,289.9L395.59,289.28L395.59,295.75L399.53,296.37Z" fill="#f85449" stroke="#352e1c" stroke-width="0.7" stroke-linejoin="round"/>
<path d="M399.53,283.43L395.59,282.81L395.59,289.28L399.53,289.9Z" fill="#f3484c" stroke="#352e1c" stroke-width="0.7" stroke-linejoin="round"/>
<path d="M399.53,276.96L395.59,276.34L395.59,282.81L399.53,283.43Z" fill="#f3484c" stroke="#352e1c" stroke-width="0.7" stroke-linejoin="round"/>
<path d="M399.53,270.49L401.35,269.09L397.41,268.47L395.59,269.87ZM399.53,270.49L395.59,269.87L395.59,276.34L399.53,276.96Z" fill="#fecc79" stroke="#352e1c" stroke-width="0.7" stroke-linejoin="round"/>
<path d="M403.47,303.46L399.53,302.84L399.53,309.31L403.47,309.93ZM403.47,303.46L405.29,302.06L405.29,308.53L403.47,309.93Z" fill="#fee191" stroke="#352e1c" stroke-width="0.7" stroke-linejoin="round"/>
<path d="M403.47,296.99L399.53,296.37L399.53,302.84L403.47,303.46ZM403.47,296.99L405.29,295.59L405.29,302.06L403.47,303.46Z" fill="#fd8e51" stroke="#352e1c" stroke-width="0.7" stroke-linejoin="round"/>
<path d="M403.47,290.52L399.53,289.9L399.53,296.37L403.47,296.99ZM403.47,290.52L405.29,289.12L405.29,295.59L403.47,296.99Z" fill="#fa5848" stroke="#352e1c" stroke-width="0.7" stroke-linejoin="round"/>
<path d="M403.47,284.05L399.53,283.43L399.53,289.9L403.47,290.52ZM403.47,284.05L405.29,282.65L405.29,289.12L403.47,290.52Z" fill="#f54c4b" stroke="#352e1c" stroke-width="0.7" stroke-linejoin="round"/>
<path d="M403.47,277.58L399.53,276.96L399.53,283.43L403.47,284.05ZM403.47,277.58L405.29,276.18L405.29,282.65L403.47,284.05Z" fill="#f54c4b" stroke="#352e1c" stroke-width="0.7" stroke-linejoin="round"/>
<path d="M403.47,271.11L405.29,269.71L401.35,269.09L399.53,270.49ZM403.47,271.11L399.53,270.49L399.53,276.96L403.47,277.58ZM403.47,271.11L405.29,269.71L405.29,276.18L403.47,277.58Z" fill="#fed682" stroke="#352e1c" stroke-width="0.7" stroke-linejoin="round"/>
<path d="M372.31,265.85L372.31,303.7L403.83,308.68L414.77,300.28L414.77,262.43M403.83,308.68L403.83,270.83M372.31,265.85L403.83,270.83L414.77,262.43M372.31,265.85L383.25,257.45L414.77,262.43" stroke="#0a0a0a" stroke-width="2.7" fill="none" stroke-linejoin="round" stroke-linecap="round"/>
</svg>
</body></html>
